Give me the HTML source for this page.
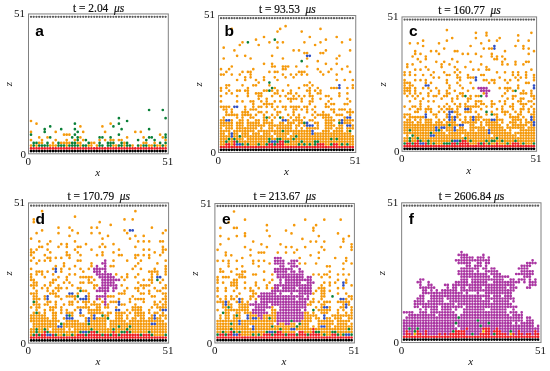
<!DOCTYPE html>
<html><head><meta charset="utf-8"><title>Figure</title>
<style>
html,body{margin:0;padding:0;background:#fff;}
body{width:550px;height:371px;overflow:hidden;position:relative;}
svg{position:absolute;left:0;top:0;display:block;}
text{font-family:"Liberation Serif","DejaVu Serif",serif;fill:#111;}
.t{font-size:11.4px;stroke:#111;stroke-width:0.2px;}
.n{font-size:11px;}
.i{font-style:italic;}
.l{font-family:"Liberation Sans","DejaVu Sans",sans-serif;font-weight:bold;font-size:15.5px;fill:#000;}
</style></head><body>
<svg width="550" height="371" viewBox="0 0 550 371">
<rect width="550" height="371" fill="#fff"/>
<g id="panel-a">
<rect x="28.50" y="13.95" width="139.80" height="139.85" fill="#fff" stroke="#808080" stroke-width="1"/>
<path d="M31.0 16.8h0M33.7 16.8h0M36.5 16.8h0M39.2 16.8h0M42.0 16.8h0M44.7 16.8h0M47.5 16.8h0M50.2 16.8h0M53.0 16.8h0M55.7 16.8h0M58.5 16.8h0M61.2 16.8h0M64.0 16.8h0M66.7 16.8h0M69.4 16.8h0M72.2 16.8h0M74.9 16.8h0M77.7 16.8h0M80.4 16.8h0M83.2 16.8h0M85.9 16.8h0M88.7 16.8h0M91.4 16.8h0M94.2 16.8h0M96.9 16.8h0M99.6 16.8h0M102.4 16.8h0M105.1 16.8h0M107.9 16.8h0M110.6 16.8h0M113.4 16.8h0M116.1 16.8h0M118.9 16.8h0M121.6 16.8h0M124.4 16.8h0M127.1 16.8h0M129.9 16.8h0M132.6 16.8h0M135.3 16.8h0M138.1 16.8h0M140.8 16.8h0M143.6 16.8h0M146.3 16.8h0M149.1 16.8h0M151.8 16.8h0M154.6 16.8h0M157.3 16.8h0M160.1 16.8h0M162.8 16.8h0M165.6 16.8h0" stroke="#5c5c5c" stroke-width="2.3" stroke-linecap="round" fill="none"/>
<path d="M31.0 151.1h0M33.7 151.1h0M36.5 151.1h0M39.2 151.1h0M42.0 151.1h0M44.7 151.1h0M47.5 151.1h0M50.2 151.1h0M53.0 151.1h0M55.7 151.1h0M58.5 151.1h0M61.2 151.1h0M64.0 151.1h0M66.7 151.1h0M69.4 151.1h0M72.2 151.1h0M74.9 151.1h0M77.7 151.1h0M80.4 151.1h0M83.2 151.1h0M85.9 151.1h0M88.7 151.1h0M91.4 151.1h0M94.2 151.1h0M96.9 151.1h0M99.6 151.1h0M102.4 151.1h0M105.1 151.1h0M107.9 151.1h0M110.6 151.1h0M113.4 151.1h0M116.1 151.1h0M118.9 151.1h0M121.6 151.1h0M124.4 151.1h0M127.1 151.1h0M129.9 151.1h0M132.6 151.1h0M135.3 151.1h0M138.1 151.1h0M140.8 151.1h0M143.6 151.1h0M146.3 151.1h0M149.1 151.1h0M151.8 151.1h0M154.6 151.1h0M157.3 151.1h0M160.1 151.1h0M162.8 151.1h0M165.6 151.1h0" stroke="#000000" stroke-width="2.7" stroke-linecap="round" fill="none"/>
<path d="M31.0 148.4h0M33.7 148.4h0M36.5 148.4h0M39.2 148.4h0M42.0 148.4h0M44.7 148.4h0M47.5 148.4h0M50.2 148.4h0M53.0 148.4h0M55.7 148.4h0M58.5 148.4h0M61.2 148.4h0M64.0 148.4h0M66.7 148.4h0M69.4 148.4h0M72.2 148.4h0M74.9 148.4h0M77.7 148.4h0M80.4 148.4h0M83.2 148.4h0M85.9 148.4h0M88.7 148.4h0M91.4 148.4h0M94.2 148.4h0M96.9 148.4h0M99.6 148.4h0M102.4 148.4h0M105.1 148.4h0M107.9 148.4h0M110.6 148.4h0M113.4 148.4h0M116.1 148.4h0M118.9 148.4h0M121.6 148.4h0M124.4 148.4h0M127.1 148.4h0M129.9 148.4h0M132.6 148.4h0M135.3 148.4h0M138.1 148.4h0M140.8 148.4h0M143.6 148.4h0M146.3 148.4h0M149.1 148.4h0M151.8 148.4h0M154.6 148.4h0M157.3 148.4h0M160.1 148.4h0M162.8 148.4h0M165.6 148.4h0" stroke="#ee1c24" stroke-width="2.7" stroke-linecap="round" fill="none"/>
<path d="M31.0 121.0h0M36.5 123.7h0M110.6 123.7h0M80.4 126.4h0M102.4 126.4h0M31.0 131.9h0M55.7 131.9h0M83.2 131.9h0M105.1 131.9h0M135.3 131.9h0M140.8 131.9h0M64.0 134.7h0M66.7 134.7h0M69.4 134.7h0M160.1 134.7h0M39.2 137.4h0M47.5 137.4h0M80.4 137.4h0M127.1 137.4h0M143.6 137.4h0M162.8 137.4h0M31.0 140.1h0M42.0 140.1h0M55.7 140.1h0M66.7 140.1h0M74.9 140.1h0M83.2 140.1h0M99.6 140.1h0M105.1 140.1h0M110.6 140.1h0M113.4 140.1h0M118.9 140.1h0M121.6 140.1h0M165.6 140.1h0M39.2 142.9h0M42.0 142.9h0M53.0 142.9h0M61.2 142.9h0M64.0 142.9h0M66.7 142.9h0M69.4 142.9h0M77.7 142.9h0M80.4 142.9h0M91.4 142.9h0M94.2 142.9h0M124.4 142.9h0M143.6 142.9h0M146.3 142.9h0M154.6 142.9h0M31.0 145.6h0M36.5 145.6h0M50.2 145.6h0M53.0 145.6h0M55.7 145.6h0M66.7 145.6h0M80.4 145.6h0M88.7 145.6h0M91.4 145.6h0M96.9 145.6h0M113.4 145.6h0M116.1 145.6h0M124.4 145.6h0M132.6 145.6h0M140.8 145.6h0M149.1 145.6h0M151.8 145.6h0M157.3 145.6h0M160.1 145.6h0M165.6 145.6h0" stroke="#f59a0c" stroke-width="2.7" stroke-linecap="round" fill="none"/>
<path d="M149.1 110.0h0M162.8 110.0h0M118.9 118.2h0M165.6 118.2h0M127.1 121.0h0M74.9 123.7h0M118.9 123.7h0M50.2 126.4h0M113.4 126.4h0M44.7 129.2h0M61.2 129.2h0M74.9 129.2h0M121.6 129.2h0M149.1 129.2h0M44.7 131.9h0M77.7 131.9h0M31.0 134.7h0M74.9 134.7h0M118.9 134.7h0M165.6 134.7h0M50.2 137.4h0M72.2 137.4h0M77.7 137.4h0M99.6 137.4h0M102.4 137.4h0M110.6 137.4h0M149.1 137.4h0M151.8 137.4h0M165.6 137.4h0M77.7 140.1h0M85.9 140.1h0M138.1 140.1h0M146.3 140.1h0M154.6 140.1h0M33.7 142.9h0M36.5 142.9h0M47.5 142.9h0M58.5 142.9h0M72.2 142.9h0M74.9 142.9h0M88.7 142.9h0M99.6 142.9h0M107.9 142.9h0M110.6 142.9h0M113.4 142.9h0M121.6 142.9h0M127.1 142.9h0M160.1 142.9h0M165.6 142.9h0M33.7 145.6h0M39.2 145.6h0M42.0 145.6h0M44.7 145.6h0M47.5 145.6h0M58.5 145.6h0M61.2 145.6h0M64.0 145.6h0M69.4 145.6h0M72.2 145.6h0M74.9 145.6h0M77.7 145.6h0M83.2 145.6h0M85.9 145.6h0M99.6 145.6h0M102.4 145.6h0M107.9 145.6h0M110.6 145.6h0M118.9 145.6h0M121.6 145.6h0M127.1 145.6h0M129.9 145.6h0M138.1 145.6h0M143.6 145.6h0M146.3 145.6h0M154.6 145.6h0M162.8 145.6h0" stroke="#0a8038" stroke-width="2.7" stroke-linecap="round" fill="none"/>
<text class="t" transform="translate(98.6,11.5) scale(1,1.15)" text-anchor="middle" xml:space="preserve">t = 2.04  <tspan class="i">μs</tspan></text>
<text class="n" x="25.1" y="16.8" text-anchor="end">51</text>
<text class="n" x="25.9" y="157.5" text-anchor="end">0</text>
<text class="n" x="28.3" y="164.8" text-anchor="middle">0</text>
<text class="n" x="167.8" y="164.8" text-anchor="middle">51</text>
<text class="n i" x="97.8" y="176.1" text-anchor="middle">x</text>
<text class="n i" transform="translate(12.0,84.2) rotate(-90)" text-anchor="middle">z</text>
<text class="l" x="35.3" y="35.6">a</text>
</g>
<g id="panel-b">
<rect x="218.50" y="15.55" width="137.25" height="136.95" fill="#fff" stroke="#808080" stroke-width="1"/>
<path d="M221.0 18.2h0M223.7 18.2h0M226.4 18.2h0M229.1 18.2h0M231.8 18.2h0M234.4 18.2h0M237.1 18.2h0M239.8 18.2h0M242.5 18.2h0M245.2 18.2h0M247.9 18.2h0M250.6 18.2h0M253.3 18.2h0M256.0 18.2h0M258.7 18.2h0M261.3 18.2h0M264.0 18.2h0M266.7 18.2h0M269.4 18.2h0M272.1 18.2h0M274.8 18.2h0M277.5 18.2h0M280.2 18.2h0M282.9 18.2h0M285.6 18.2h0M288.2 18.2h0M290.9 18.2h0M293.6 18.2h0M296.3 18.2h0M299.0 18.2h0M301.7 18.2h0M304.4 18.2h0M307.1 18.2h0M309.8 18.2h0M312.5 18.2h0M315.1 18.2h0M317.8 18.2h0M320.5 18.2h0M323.2 18.2h0M325.9 18.2h0M328.6 18.2h0M331.3 18.2h0M334.0 18.2h0M336.7 18.2h0M339.4 18.2h0M342.0 18.2h0M344.7 18.2h0M347.4 18.2h0M350.1 18.2h0M352.8 18.2h0" stroke="#5c5c5c" stroke-width="2.3" stroke-linecap="round" fill="none"/>
<path d="M221.0 149.8h0M223.7 149.8h0M226.4 149.8h0M229.1 149.8h0M231.8 149.8h0M234.4 149.8h0M237.1 149.8h0M239.8 149.8h0M242.5 149.8h0M245.2 149.8h0M247.9 149.8h0M250.6 149.8h0M253.3 149.8h0M256.0 149.8h0M258.7 149.8h0M261.3 149.8h0M264.0 149.8h0M266.7 149.8h0M269.4 149.8h0M272.1 149.8h0M274.8 149.8h0M277.5 149.8h0M280.2 149.8h0M282.9 149.8h0M285.6 149.8h0M288.2 149.8h0M290.9 149.8h0M293.6 149.8h0M296.3 149.8h0M299.0 149.8h0M301.7 149.8h0M304.4 149.8h0M307.1 149.8h0M309.8 149.8h0M312.5 149.8h0M315.1 149.8h0M317.8 149.8h0M320.5 149.8h0M323.2 149.8h0M325.9 149.8h0M328.6 149.8h0M331.3 149.8h0M334.0 149.8h0M336.7 149.8h0M339.4 149.8h0M342.0 149.8h0M344.7 149.8h0M347.4 149.8h0M350.1 149.8h0M352.8 149.8h0" stroke="#000000" stroke-width="2.7" stroke-linecap="round" fill="none"/>
<path d="M234.4 141.7h0M280.2 141.7h0M282.9 141.7h0M226.4 144.4h0M229.1 144.4h0M234.4 144.4h0M269.4 144.4h0M272.1 144.4h0M277.5 144.4h0M280.2 144.4h0M282.9 144.4h0M317.8 144.4h0M320.5 144.4h0M323.2 144.4h0M334.0 144.4h0M336.7 144.4h0M221.0 147.1h0M223.7 147.1h0M226.4 147.1h0M229.1 147.1h0M231.8 147.1h0M234.4 147.1h0M237.1 147.1h0M239.8 147.1h0M242.5 147.1h0M245.2 147.1h0M247.9 147.1h0M250.6 147.1h0M253.3 147.1h0M256.0 147.1h0M258.7 147.1h0M261.3 147.1h0M264.0 147.1h0M266.7 147.1h0M269.4 147.1h0M272.1 147.1h0M274.8 147.1h0M277.5 147.1h0M280.2 147.1h0M282.9 147.1h0M285.6 147.1h0M288.2 147.1h0M290.9 147.1h0M293.6 147.1h0M296.3 147.1h0M299.0 147.1h0M301.7 147.1h0M304.4 147.1h0M307.1 147.1h0M309.8 147.1h0M312.5 147.1h0M315.1 147.1h0M317.8 147.1h0M320.5 147.1h0M323.2 147.1h0M325.9 147.1h0M328.6 147.1h0M331.3 147.1h0M334.0 147.1h0M336.7 147.1h0M339.4 147.1h0M342.0 147.1h0M344.7 147.1h0M347.4 147.1h0M350.1 147.1h0M352.8 147.1h0" stroke="#ee1c24" stroke-width="2.7" stroke-linecap="round" fill="none"/>
<path d="M285.6 26.2h0M231.8 28.9h0M280.2 28.9h0M320.5 28.9h0M277.5 31.6h0M301.7 31.6h0M264.0 37.0h0M309.8 37.0h0M336.7 37.0h0M256.0 39.7h0M325.9 39.7h0M350.1 39.7h0M242.5 42.3h0M269.4 42.3h0M277.5 42.3h0M282.9 42.3h0M304.4 42.3h0M320.5 42.3h0M342.0 42.3h0M239.8 45.0h0M258.7 45.0h0M315.1 45.0h0M223.7 47.7h0M277.5 47.7h0M234.4 50.4h0M293.6 50.4h0M299.0 50.4h0M325.9 50.4h0M350.1 50.4h0M304.4 53.1h0M307.1 53.1h0M320.5 53.1h0M323.2 53.1h0M237.1 55.8h0M245.2 55.8h0M272.1 55.8h0M339.4 55.8h0M223.7 58.5h0M250.6 58.5h0M282.9 58.5h0M307.1 58.5h0M336.7 58.5h0M317.8 61.2h0M264.0 63.8h0M272.1 63.8h0M325.9 63.8h0M336.7 63.8h0M231.8 66.5h0M272.1 66.5h0M274.8 66.5h0M282.9 66.5h0M285.6 66.5h0M288.2 66.5h0M296.3 66.5h0M307.1 66.5h0M347.4 66.5h0M221.0 69.2h0M229.1 69.2h0M253.3 69.2h0M282.9 69.2h0M285.6 69.2h0M317.8 69.2h0M331.3 69.2h0M342.0 69.2h0M226.4 71.9h0M242.5 71.9h0M247.9 71.9h0M250.6 71.9h0M269.4 71.9h0M274.8 71.9h0M277.5 71.9h0M299.0 71.9h0M301.7 71.9h0M304.4 71.9h0M320.5 71.9h0M328.6 71.9h0M350.1 71.9h0M221.0 74.6h0M223.7 74.6h0M231.8 74.6h0M239.8 74.6h0M250.6 74.6h0M282.9 74.6h0M290.9 74.6h0M296.3 74.6h0M301.7 74.6h0M307.1 74.6h0M323.2 74.6h0M336.7 74.6h0M245.2 77.3h0M250.6 77.3h0M264.0 77.3h0M274.8 77.3h0M285.6 77.3h0M293.6 77.3h0M237.1 80.0h0M245.2 80.0h0M256.0 80.0h0M264.0 80.0h0M277.5 80.0h0M336.7 80.0h0M344.7 80.0h0M352.8 80.0h0M258.7 82.6h0M309.8 82.6h0M226.4 85.3h0M229.1 85.3h0M242.5 85.3h0M253.3 85.3h0M256.0 85.3h0M269.4 85.3h0M288.2 85.3h0M304.4 85.3h0M307.1 85.3h0M312.5 85.3h0M352.8 85.3h0M221.0 88.0h0M226.4 88.0h0M247.9 88.0h0M274.8 88.0h0M299.0 88.0h0M309.8 88.0h0M317.8 88.0h0M331.3 88.0h0M334.0 88.0h0M336.7 88.0h0M347.4 88.0h0M352.8 88.0h0M221.0 90.7h0M229.1 90.7h0M237.1 90.7h0M239.8 90.7h0M245.2 90.7h0M247.9 90.7h0M264.0 90.7h0M266.7 90.7h0M272.1 90.7h0M277.5 90.7h0M282.9 90.7h0M290.9 90.7h0M307.1 90.7h0M309.8 90.7h0M315.1 90.7h0M320.5 90.7h0M226.4 93.4h0M231.8 93.4h0M247.9 93.4h0M256.0 93.4h0M258.7 93.4h0M261.3 93.4h0M274.8 93.4h0M277.5 93.4h0M288.2 93.4h0M290.9 93.4h0M296.3 93.4h0M309.8 93.4h0M317.8 93.4h0M320.5 93.4h0M339.4 93.4h0M347.4 93.4h0M221.0 96.1h0M237.1 96.1h0M247.9 96.1h0M258.7 96.1h0M261.3 96.1h0M272.1 96.1h0M280.2 96.1h0M285.6 96.1h0M293.6 96.1h0M299.0 96.1h0M304.4 96.1h0M309.8 96.1h0M312.5 96.1h0M325.9 96.1h0M328.6 96.1h0M339.4 96.1h0M258.7 98.8h0M266.7 98.8h0M288.2 98.8h0M290.9 98.8h0M293.6 98.8h0M296.3 98.8h0M301.7 98.8h0M312.5 98.8h0M320.5 98.8h0M331.3 98.8h0M347.4 98.8h0M221.0 101.4h0M237.1 101.4h0M242.5 101.4h0M250.6 101.4h0M253.3 101.4h0M261.3 101.4h0M266.7 101.4h0M274.8 101.4h0M280.2 101.4h0M290.9 101.4h0M301.7 101.4h0M309.8 101.4h0M312.5 101.4h0M328.6 101.4h0M350.1 101.4h0M253.3 104.1h0M264.0 104.1h0M266.7 104.1h0M269.4 104.1h0M272.1 104.1h0M309.8 104.1h0M325.9 104.1h0M331.3 104.1h0M334.0 104.1h0M344.7 104.1h0M347.4 104.1h0M221.0 106.8h0M223.7 106.8h0M226.4 106.8h0M229.1 106.8h0M245.2 106.8h0M253.3 106.8h0M258.7 106.8h0M261.3 106.8h0M266.7 106.8h0M272.1 106.8h0M277.5 106.8h0M282.9 106.8h0M285.6 106.8h0M290.9 106.8h0M293.6 106.8h0M296.3 106.8h0M299.0 106.8h0M304.4 106.8h0M307.1 106.8h0M315.1 106.8h0M325.9 106.8h0M328.6 106.8h0M223.7 109.5h0M226.4 109.5h0M231.8 109.5h0M245.2 109.5h0M250.6 109.5h0M253.3 109.5h0M256.0 109.5h0M274.8 109.5h0M285.6 109.5h0M293.6 109.5h0M296.3 109.5h0M301.7 109.5h0M307.1 109.5h0M312.5 109.5h0M331.3 109.5h0M334.0 109.5h0M339.4 109.5h0M342.0 109.5h0M344.7 109.5h0M350.1 109.5h0M226.4 112.2h0M231.8 112.2h0M242.5 112.2h0M245.2 112.2h0M247.9 112.2h0M258.7 112.2h0M261.3 112.2h0M266.7 112.2h0M277.5 112.2h0M280.2 112.2h0M293.6 112.2h0M307.1 112.2h0M315.1 112.2h0M323.2 112.2h0M334.0 112.2h0M347.4 112.2h0M350.1 112.2h0M352.8 112.2h0M226.4 114.9h0M229.1 114.9h0M231.8 114.9h0M234.4 114.9h0M237.1 114.9h0M242.5 114.9h0M245.2 114.9h0M247.9 114.9h0M250.6 114.9h0M256.0 114.9h0M264.0 114.9h0M272.1 114.9h0M277.5 114.9h0M288.2 114.9h0M293.6 114.9h0M299.0 114.9h0M312.5 114.9h0M317.8 114.9h0M320.5 114.9h0M323.2 114.9h0M325.9 114.9h0M328.6 114.9h0M336.7 114.9h0M339.4 114.9h0M342.0 114.9h0M350.1 114.9h0M223.7 117.6h0M237.1 117.6h0M242.5 117.6h0M250.6 117.6h0M253.3 117.6h0M264.0 117.6h0M269.4 117.6h0M274.8 117.6h0M282.9 117.6h0M290.9 117.6h0M296.3 117.6h0M299.0 117.6h0M304.4 117.6h0M315.1 117.6h0M323.2 117.6h0M325.9 117.6h0M328.6 117.6h0M331.3 117.6h0M344.7 117.6h0M221.0 120.3h0M223.7 120.3h0M231.8 120.3h0M239.8 120.3h0M242.5 120.3h0M247.9 120.3h0M256.0 120.3h0M258.7 120.3h0M264.0 120.3h0M266.7 120.3h0M272.1 120.3h0M288.2 120.3h0M293.6 120.3h0M296.3 120.3h0M299.0 120.3h0M301.7 120.3h0M309.8 120.3h0M312.5 120.3h0M325.9 120.3h0M328.6 120.3h0M331.3 120.3h0M334.0 120.3h0M339.4 120.3h0M344.7 120.3h0M347.4 120.3h0M350.1 120.3h0M352.8 120.3h0M221.0 122.9h0M223.7 122.9h0M226.4 122.9h0M229.1 122.9h0M231.8 122.9h0M237.1 122.9h0M239.8 122.9h0M242.5 122.9h0M247.9 122.9h0M250.6 122.9h0M253.3 122.9h0M256.0 122.9h0M258.7 122.9h0M264.0 122.9h0M266.7 122.9h0M269.4 122.9h0M272.1 122.9h0M280.2 122.9h0M282.9 122.9h0M288.2 122.9h0M290.9 122.9h0M293.6 122.9h0M299.0 122.9h0M301.7 122.9h0M315.1 122.9h0M317.8 122.9h0M325.9 122.9h0M328.6 122.9h0M331.3 122.9h0M344.7 122.9h0M347.4 122.9h0M350.1 122.9h0M221.0 125.6h0M223.7 125.6h0M226.4 125.6h0M229.1 125.6h0M231.8 125.6h0M237.1 125.6h0M239.8 125.6h0M242.5 125.6h0M247.9 125.6h0M250.6 125.6h0M253.3 125.6h0M256.0 125.6h0M258.7 125.6h0M261.3 125.6h0M264.0 125.6h0M269.4 125.6h0M272.1 125.6h0M274.8 125.6h0M277.5 125.6h0M280.2 125.6h0M282.9 125.6h0M285.6 125.6h0M288.2 125.6h0M290.9 125.6h0M296.3 125.6h0M299.0 125.6h0M304.4 125.6h0M317.8 125.6h0M325.9 125.6h0M328.6 125.6h0M331.3 125.6h0M334.0 125.6h0M339.4 125.6h0M342.0 125.6h0M352.8 125.6h0M221.0 128.3h0M226.4 128.3h0M229.1 128.3h0M231.8 128.3h0M237.1 128.3h0M239.8 128.3h0M242.5 128.3h0M245.2 128.3h0M247.9 128.3h0M250.6 128.3h0M253.3 128.3h0M256.0 128.3h0M261.3 128.3h0M269.4 128.3h0M272.1 128.3h0M277.5 128.3h0M280.2 128.3h0M282.9 128.3h0M285.6 128.3h0M288.2 128.3h0M290.9 128.3h0M296.3 128.3h0M301.7 128.3h0M307.1 128.3h0M309.8 128.3h0M312.5 128.3h0M315.1 128.3h0M317.8 128.3h0M325.9 128.3h0M328.6 128.3h0M331.3 128.3h0M336.7 128.3h0M339.4 128.3h0M342.0 128.3h0M347.4 128.3h0M350.1 128.3h0M352.8 128.3h0M221.0 131.0h0M223.7 131.0h0M226.4 131.0h0M229.1 131.0h0M234.4 131.0h0M237.1 131.0h0M239.8 131.0h0M242.5 131.0h0M245.2 131.0h0M247.9 131.0h0M250.6 131.0h0M253.3 131.0h0M258.7 131.0h0M261.3 131.0h0M264.0 131.0h0M266.7 131.0h0M269.4 131.0h0M272.1 131.0h0M274.8 131.0h0M277.5 131.0h0M280.2 131.0h0M285.6 131.0h0M288.2 131.0h0M290.9 131.0h0M293.6 131.0h0M296.3 131.0h0M299.0 131.0h0M301.7 131.0h0M304.4 131.0h0M307.1 131.0h0M309.8 131.0h0M323.2 131.0h0M325.9 131.0h0M328.6 131.0h0M334.0 131.0h0M336.7 131.0h0M339.4 131.0h0M342.0 131.0h0M347.4 131.0h0M221.0 133.7h0M223.7 133.7h0M229.1 133.7h0M234.4 133.7h0M237.1 133.7h0M242.5 133.7h0M245.2 133.7h0M247.9 133.7h0M253.3 133.7h0M256.0 133.7h0M258.7 133.7h0M264.0 133.7h0M266.7 133.7h0M269.4 133.7h0M274.8 133.7h0M277.5 133.7h0M280.2 133.7h0M282.9 133.7h0M285.6 133.7h0M288.2 133.7h0M293.6 133.7h0M296.3 133.7h0M299.0 133.7h0M301.7 133.7h0M304.4 133.7h0M307.1 133.7h0M309.8 133.7h0M315.1 133.7h0M317.8 133.7h0M320.5 133.7h0M323.2 133.7h0M325.9 133.7h0M328.6 133.7h0M331.3 133.7h0M334.0 133.7h0M336.7 133.7h0M339.4 133.7h0M342.0 133.7h0M344.7 133.7h0M347.4 133.7h0M350.1 133.7h0M221.0 136.4h0M223.7 136.4h0M226.4 136.4h0M229.1 136.4h0M234.4 136.4h0M237.1 136.4h0M242.5 136.4h0M245.2 136.4h0M247.9 136.4h0M250.6 136.4h0M253.3 136.4h0M256.0 136.4h0M258.7 136.4h0M261.3 136.4h0M264.0 136.4h0M266.7 136.4h0M269.4 136.4h0M272.1 136.4h0M277.5 136.4h0M280.2 136.4h0M282.9 136.4h0M285.6 136.4h0M290.9 136.4h0M293.6 136.4h0M299.0 136.4h0M301.7 136.4h0M304.4 136.4h0M307.1 136.4h0M309.8 136.4h0M312.5 136.4h0M315.1 136.4h0M317.8 136.4h0M320.5 136.4h0M323.2 136.4h0M325.9 136.4h0M328.6 136.4h0M331.3 136.4h0M334.0 136.4h0M336.7 136.4h0M339.4 136.4h0M342.0 136.4h0M344.7 136.4h0M347.4 136.4h0M350.1 136.4h0M352.8 136.4h0M221.0 139.1h0M223.7 139.1h0M226.4 139.1h0M231.8 139.1h0M237.1 139.1h0M239.8 139.1h0M242.5 139.1h0M247.9 139.1h0M250.6 139.1h0M253.3 139.1h0M256.0 139.1h0M258.7 139.1h0M261.3 139.1h0M264.0 139.1h0M266.7 139.1h0M272.1 139.1h0M274.8 139.1h0M282.9 139.1h0M285.6 139.1h0M288.2 139.1h0M290.9 139.1h0M296.3 139.1h0M299.0 139.1h0M301.7 139.1h0M304.4 139.1h0M307.1 139.1h0M309.8 139.1h0M312.5 139.1h0M315.1 139.1h0M317.8 139.1h0M320.5 139.1h0M323.2 139.1h0M325.9 139.1h0M328.6 139.1h0M334.0 139.1h0M339.4 139.1h0M342.0 139.1h0M344.7 139.1h0M347.4 139.1h0M350.1 139.1h0M352.8 139.1h0M221.0 141.7h0M223.7 141.7h0M229.1 141.7h0M231.8 141.7h0M239.8 141.7h0M242.5 141.7h0M245.2 141.7h0M247.9 141.7h0M250.6 141.7h0M253.3 141.7h0M256.0 141.7h0M258.7 141.7h0M261.3 141.7h0M264.0 141.7h0M266.7 141.7h0M290.9 141.7h0M293.6 141.7h0M296.3 141.7h0M299.0 141.7h0M304.4 141.7h0M307.1 141.7h0M309.8 141.7h0M312.5 141.7h0M320.5 141.7h0M323.2 141.7h0M325.9 141.7h0M328.6 141.7h0M331.3 141.7h0M334.0 141.7h0M336.7 141.7h0M339.4 141.7h0M342.0 141.7h0M344.7 141.7h0M347.4 141.7h0M350.1 141.7h0M352.8 141.7h0M221.0 144.4h0M223.7 144.4h0M231.8 144.4h0M245.2 144.4h0M250.6 144.4h0M253.3 144.4h0M256.0 144.4h0M261.3 144.4h0M264.0 144.4h0M285.6 144.4h0M288.2 144.4h0M290.9 144.4h0M293.6 144.4h0M296.3 144.4h0M301.7 144.4h0M307.1 144.4h0M312.5 144.4h0M325.9 144.4h0M328.6 144.4h0M339.4 144.4h0M344.7 144.4h0M350.1 144.4h0M352.8 144.4h0" stroke="#f59a0c" stroke-width="2.7" stroke-linecap="round" fill="none"/>
<path d="M274.8 39.7h0M247.9 42.3h0M301.7 61.2h0M269.4 82.6h0M272.1 88.0h0M269.4 90.7h0M266.7 117.6h0M280.2 117.6h0M304.4 122.9h0M339.4 122.9h0M282.9 131.0h0M350.1 131.0h0M239.8 136.4h0M296.3 136.4h0M229.1 139.1h0M234.4 139.1h0M269.4 139.1h0M277.5 139.1h0M280.2 139.1h0M293.6 139.1h0M331.3 139.1h0M336.7 139.1h0M226.4 141.7h0M237.1 141.7h0M269.4 141.7h0M277.5 141.7h0M285.6 141.7h0M288.2 141.7h0M301.7 141.7h0M315.1 141.7h0M317.8 141.7h0M242.5 144.4h0M247.9 144.4h0M258.7 144.4h0M266.7 144.4h0M274.8 144.4h0M299.0 144.4h0M304.4 144.4h0M309.8 144.4h0M315.1 144.4h0M331.3 144.4h0M342.0 144.4h0M347.4 144.4h0" stroke="#0a8038" stroke-width="2.7" stroke-linecap="round" fill="none"/>
<path d="M307.1 55.8h0M309.8 55.8h0M339.4 85.3h0M339.4 88.0h0M234.4 106.8h0M237.1 106.8h0M347.4 117.6h0M350.1 117.6h0M226.4 120.3h0M229.1 120.3h0M282.9 120.3h0M285.6 120.3h0M342.0 120.3h0M307.1 122.9h0M342.0 122.9h0M307.1 125.6h0M309.8 125.6h0M312.5 125.6h0M347.4 125.6h0M350.1 125.6h0M312.5 131.0h0M231.8 133.7h0M312.5 133.7h0M231.8 136.4h0M272.1 141.7h0M274.8 141.7h0M237.1 144.4h0M239.8 144.4h0" stroke="#2f4fc4" stroke-width="2.7" stroke-linecap="round" fill="none"/>
<text class="t" transform="translate(287.3,13.0) scale(1,1.15)" text-anchor="middle" xml:space="preserve">t = 93.53  <tspan class="i">μs</tspan></text>
<text class="n" x="215.1" y="18.4" text-anchor="end">51</text>
<text class="n" x="215.9" y="156.2" text-anchor="end">0</text>
<text class="n" x="218.3" y="163.5" text-anchor="middle">0</text>
<text class="n" x="355.2" y="163.5" text-anchor="middle">51</text>
<text class="n i" x="286.5" y="174.8" text-anchor="middle">x</text>
<text class="n i" transform="translate(202.0,84.3) rotate(-90)" text-anchor="middle">z</text>
<text class="l" x="224.5" y="35.5">b</text>
</g>
<g id="panel-c">
<rect x="402.00" y="16.90" width="134.60" height="134.40" fill="#fff" stroke="#808080" stroke-width="1"/>
<path d="M404.6 19.6h0M407.3 19.6h0M409.9 19.6h0M412.6 19.6h0M415.2 19.6h0M417.8 19.6h0M420.5 19.6h0M423.1 19.6h0M425.8 19.6h0M428.4 19.6h0M431.0 19.6h0M433.7 19.6h0M436.3 19.6h0M439.0 19.6h0M441.6 19.6h0M444.2 19.6h0M446.9 19.6h0M449.5 19.6h0M452.2 19.6h0M454.8 19.6h0M457.4 19.6h0M460.1 19.6h0M462.7 19.6h0M465.4 19.6h0M468.0 19.6h0M470.6 19.6h0M473.3 19.6h0M475.9 19.6h0M478.6 19.6h0M481.2 19.6h0M483.8 19.6h0M486.5 19.6h0M489.1 19.6h0M491.8 19.6h0M494.4 19.6h0M497.0 19.6h0M499.7 19.6h0M502.3 19.6h0M505.0 19.6h0M507.6 19.6h0M510.2 19.6h0M512.9 19.6h0M515.5 19.6h0M518.2 19.6h0M520.8 19.6h0M523.4 19.6h0M526.1 19.6h0M528.7 19.6h0M531.4 19.6h0M534.0 19.6h0" stroke="#5c5c5c" stroke-width="2.3" stroke-linecap="round" fill="none"/>
<path d="M404.6 148.8h0M407.3 148.8h0M409.9 148.8h0M412.6 148.8h0M415.2 148.8h0M417.8 148.8h0M420.5 148.8h0M423.1 148.8h0M425.8 148.8h0M428.4 148.8h0M431.0 148.8h0M433.7 148.8h0M436.3 148.8h0M439.0 148.8h0M441.6 148.8h0M444.2 148.8h0M446.9 148.8h0M449.5 148.8h0M452.2 148.8h0M454.8 148.8h0M457.4 148.8h0M460.1 148.8h0M462.7 148.8h0M465.4 148.8h0M468.0 148.8h0M470.6 148.8h0M473.3 148.8h0M475.9 148.8h0M478.6 148.8h0M481.2 148.8h0M483.8 148.8h0M486.5 148.8h0M489.1 148.8h0M491.8 148.8h0M494.4 148.8h0M497.0 148.8h0M499.7 148.8h0M502.3 148.8h0M505.0 148.8h0M507.6 148.8h0M510.2 148.8h0M512.9 148.8h0M515.5 148.8h0M518.2 148.8h0M520.8 148.8h0M523.4 148.8h0M526.1 148.8h0M528.7 148.8h0M531.4 148.8h0M534.0 148.8h0" stroke="#000000" stroke-width="2.7" stroke-linecap="round" fill="none"/>
<path d="M417.8 140.9h0M462.7 140.9h0M465.4 140.9h0M407.3 143.5h0M409.9 143.5h0M415.2 143.5h0M417.8 143.5h0M425.8 143.5h0M452.2 143.5h0M454.8 143.5h0M460.1 143.5h0M462.7 143.5h0M465.4 143.5h0M468.0 143.5h0M478.6 143.5h0M483.8 143.5h0M497.0 143.5h0M512.9 143.5h0M515.5 143.5h0M518.2 143.5h0M404.6 146.2h0M407.3 146.2h0M409.9 146.2h0M412.6 146.2h0M415.2 146.2h0M417.8 146.2h0M420.5 146.2h0M423.1 146.2h0M425.8 146.2h0M428.4 146.2h0M431.0 146.2h0M433.7 146.2h0M436.3 146.2h0M439.0 146.2h0M441.6 146.2h0M444.2 146.2h0M446.9 146.2h0M449.5 146.2h0M452.2 146.2h0M454.8 146.2h0M457.4 146.2h0M460.1 146.2h0M462.7 146.2h0M465.4 146.2h0M468.0 146.2h0M470.6 146.2h0M473.3 146.2h0M475.9 146.2h0M478.6 146.2h0M481.2 146.2h0M483.8 146.2h0M486.5 146.2h0M489.1 146.2h0M491.8 146.2h0M494.4 146.2h0M497.0 146.2h0M499.7 146.2h0M502.3 146.2h0M505.0 146.2h0M507.6 146.2h0M510.2 146.2h0M512.9 146.2h0M515.5 146.2h0M518.2 146.2h0M520.8 146.2h0M523.4 146.2h0M526.1 146.2h0M528.7 146.2h0M531.4 146.2h0M534.0 146.2h0" stroke="#ee1c24" stroke-width="2.7" stroke-linecap="round" fill="none"/>
<path d="M446.9 30.1h0M475.9 32.8h0M486.5 32.8h0M531.4 32.8h0M486.5 35.4h0M518.2 35.4h0M452.2 38.1h0M475.9 38.1h0M499.7 38.1h0M423.1 40.7h0M446.9 40.7h0M489.1 40.7h0M497.0 40.7h0M518.2 40.7h0M528.7 40.7h0M409.9 43.3h0M417.8 43.3h0M439.0 43.3h0M481.2 43.3h0M423.1 46.0h0M470.6 46.0h0M515.5 46.0h0M523.4 46.0h0M444.2 48.6h0M483.8 48.6h0M489.1 48.6h0M491.8 48.6h0M523.4 48.6h0M528.7 48.6h0M415.2 51.2h0M431.0 51.2h0M436.3 51.2h0M454.8 51.2h0M457.4 51.2h0M505.0 51.2h0M534.0 51.2h0M415.2 53.9h0M420.5 53.9h0M439.0 53.9h0M462.7 53.9h0M468.0 53.9h0M475.9 53.9h0M491.8 53.9h0M528.7 53.9h0M412.6 56.5h0M425.8 56.5h0M481.2 56.5h0M491.8 56.5h0M497.0 56.5h0M502.3 56.5h0M417.8 59.2h0M425.8 59.2h0M452.2 59.2h0M494.4 59.2h0M497.0 59.2h0M505.0 59.2h0M420.5 61.8h0M436.3 61.8h0M444.2 61.8h0M457.4 61.8h0M470.6 61.8h0M502.3 61.8h0M515.5 61.8h0M526.1 61.8h0M528.7 61.8h0M407.3 64.4h0M412.6 64.4h0M441.6 64.4h0M449.5 64.4h0M481.2 64.4h0M502.3 64.4h0M507.6 64.4h0M515.5 64.4h0M523.4 64.4h0M407.3 67.1h0M425.8 67.1h0M441.6 67.1h0M454.8 67.1h0M465.4 67.1h0M486.5 67.1h0M415.2 69.7h0M420.5 69.7h0M428.4 69.7h0M457.4 69.7h0M473.3 69.7h0M478.6 69.7h0M486.5 69.7h0M489.1 69.7h0M531.4 69.7h0M404.6 72.3h0M409.9 72.3h0M433.7 72.3h0M444.2 72.3h0M454.8 72.3h0M460.1 72.3h0M497.0 72.3h0M505.0 72.3h0M512.9 72.3h0M518.2 72.3h0M526.1 72.3h0M404.6 75.0h0M409.9 75.0h0M415.2 75.0h0M423.1 75.0h0M431.0 75.0h0M446.9 75.0h0M449.5 75.0h0M457.4 75.0h0M468.0 75.0h0M481.2 75.0h0M483.8 75.0h0M512.9 75.0h0M518.2 75.0h0M526.1 75.0h0M534.0 75.0h0M433.7 77.6h0M439.0 77.6h0M457.4 77.6h0M460.1 77.6h0M468.0 77.6h0M470.6 77.6h0M473.3 77.6h0M499.7 77.6h0M515.5 77.6h0M520.8 77.6h0M526.1 77.6h0M534.0 77.6h0M404.6 80.2h0M415.2 80.2h0M420.5 80.2h0M425.8 80.2h0M446.9 80.2h0M460.1 80.2h0M483.8 80.2h0M486.5 80.2h0M491.8 80.2h0M494.4 80.2h0M505.0 80.2h0M510.2 80.2h0M518.2 80.2h0M534.0 80.2h0M404.6 82.9h0M407.3 82.9h0M409.9 82.9h0M425.8 82.9h0M431.0 82.9h0M446.9 82.9h0M457.4 82.9h0M470.6 82.9h0M489.1 82.9h0M494.4 82.9h0M507.6 82.9h0M526.1 82.9h0M528.7 82.9h0M404.6 85.5h0M409.9 85.5h0M412.6 85.5h0M449.5 85.5h0M460.1 85.5h0M518.2 85.5h0M404.6 88.2h0M407.3 88.2h0M409.9 88.2h0M415.2 88.2h0M423.1 88.2h0M428.4 88.2h0M436.3 88.2h0M449.5 88.2h0M462.7 88.2h0M473.3 88.2h0M499.7 88.2h0M505.0 88.2h0M507.6 88.2h0M510.2 88.2h0M518.2 88.2h0M404.6 90.8h0M407.3 90.8h0M409.9 90.8h0M415.2 90.8h0M431.0 90.8h0M439.0 90.8h0M446.9 90.8h0M454.8 90.8h0M468.0 90.8h0M507.6 90.8h0M512.9 90.8h0M523.4 90.8h0M531.4 90.8h0M404.6 93.4h0M409.9 93.4h0M415.2 93.4h0M420.5 93.4h0M428.4 93.4h0M439.0 93.4h0M446.9 93.4h0M449.5 93.4h0M460.1 93.4h0M462.7 93.4h0M483.8 93.4h0M505.0 93.4h0M520.8 93.4h0M523.4 93.4h0M526.1 93.4h0M531.4 93.4h0M407.3 96.1h0M412.6 96.1h0M417.8 96.1h0M428.4 96.1h0M433.7 96.1h0M436.3 96.1h0M444.2 96.1h0M446.9 96.1h0M457.4 96.1h0M462.7 96.1h0M470.6 96.1h0M475.9 96.1h0M478.6 96.1h0M502.3 96.1h0M512.9 96.1h0M515.5 96.1h0M531.4 96.1h0M534.0 96.1h0M415.2 98.7h0M423.1 98.7h0M441.6 98.7h0M452.2 98.7h0M457.4 98.7h0M468.0 98.7h0M470.6 98.7h0M507.6 98.7h0M512.9 98.7h0M520.8 98.7h0M523.4 98.7h0M534.0 98.7h0M409.9 101.3h0M420.5 101.3h0M428.4 101.3h0M433.7 101.3h0M452.2 101.3h0M468.0 101.3h0M475.9 101.3h0M478.6 101.3h0M481.2 101.3h0M491.8 101.3h0M499.7 101.3h0M505.0 101.3h0M518.2 101.3h0M520.8 101.3h0M528.7 101.3h0M531.4 101.3h0M420.5 104.0h0M446.9 104.0h0M454.8 104.0h0M460.1 104.0h0M465.4 104.0h0M475.9 104.0h0M481.2 104.0h0M483.8 104.0h0M491.8 104.0h0M494.4 104.0h0M505.0 104.0h0M512.9 104.0h0M520.8 104.0h0M523.4 104.0h0M526.1 104.0h0M534.0 104.0h0M404.6 106.6h0M412.6 106.6h0M415.2 106.6h0M420.5 106.6h0M428.4 106.6h0M439.0 106.6h0M444.2 106.6h0M449.5 106.6h0M457.4 106.6h0M460.1 106.6h0M465.4 106.6h0M468.0 106.6h0M470.6 106.6h0M473.3 106.6h0M475.9 106.6h0M478.6 106.6h0M486.5 106.6h0M491.8 106.6h0M502.3 106.6h0M510.2 106.6h0M512.9 106.6h0M523.4 106.6h0M531.4 106.6h0M409.9 109.2h0M417.8 109.2h0M420.5 109.2h0M425.8 109.2h0M428.4 109.2h0M431.0 109.2h0M441.6 109.2h0M446.9 109.2h0M449.5 109.2h0M452.2 109.2h0M457.4 109.2h0M470.6 109.2h0M481.2 109.2h0M497.0 109.2h0M502.3 109.2h0M512.9 109.2h0M520.8 109.2h0M523.4 109.2h0M528.7 109.2h0M534.0 109.2h0M415.2 111.9h0M417.8 111.9h0M425.8 111.9h0M431.0 111.9h0M439.0 111.9h0M444.2 111.9h0M454.8 111.9h0M457.4 111.9h0M465.4 111.9h0M468.0 111.9h0M470.6 111.9h0M475.9 111.9h0M491.8 111.9h0M502.3 111.9h0M505.0 111.9h0M507.6 111.9h0M515.5 111.9h0M520.8 111.9h0M528.7 111.9h0M534.0 111.9h0M404.6 114.5h0M407.3 114.5h0M409.9 114.5h0M433.7 114.5h0M436.3 114.5h0M446.9 114.5h0M457.4 114.5h0M460.1 114.5h0M478.6 114.5h0M486.5 114.5h0M494.4 114.5h0M497.0 114.5h0M505.0 114.5h0M510.2 114.5h0M518.2 114.5h0M520.8 114.5h0M531.4 114.5h0M534.0 114.5h0M404.6 117.2h0M409.9 117.2h0M412.6 117.2h0M415.2 117.2h0M417.8 117.2h0M420.5 117.2h0M423.1 117.2h0M436.3 117.2h0M446.9 117.2h0M452.2 117.2h0M457.4 117.2h0M465.4 117.2h0M470.6 117.2h0M475.9 117.2h0M478.6 117.2h0M481.2 117.2h0M497.0 117.2h0M510.2 117.2h0M512.9 117.2h0M515.5 117.2h0M518.2 117.2h0M523.4 117.2h0M534.0 117.2h0M407.3 119.8h0M409.9 119.8h0M415.2 119.8h0M420.5 119.8h0M425.8 119.8h0M428.4 119.8h0M431.0 119.8h0M439.0 119.8h0M444.2 119.8h0M452.2 119.8h0M460.1 119.8h0M465.4 119.8h0M470.6 119.8h0M475.9 119.8h0M478.6 119.8h0M483.8 119.8h0M486.5 119.8h0M489.1 119.8h0M497.0 119.8h0M499.7 119.8h0M502.3 119.8h0M512.9 119.8h0M515.5 119.8h0M518.2 119.8h0M520.8 119.8h0M526.1 119.8h0M534.0 119.8h0M404.6 122.4h0M407.3 122.4h0M409.9 122.4h0M412.6 122.4h0M417.8 122.4h0M420.5 122.4h0M425.8 122.4h0M428.4 122.4h0M431.0 122.4h0M436.3 122.4h0M439.0 122.4h0M441.6 122.4h0M446.9 122.4h0M449.5 122.4h0M452.2 122.4h0M454.8 122.4h0M462.7 122.4h0M465.4 122.4h0M468.0 122.4h0M470.6 122.4h0M473.3 122.4h0M475.9 122.4h0M481.2 122.4h0M486.5 122.4h0M489.1 122.4h0M491.8 122.4h0M494.4 122.4h0M497.0 122.4h0M502.3 122.4h0M510.2 122.4h0M512.9 122.4h0M515.5 122.4h0M520.8 122.4h0M526.1 122.4h0M528.7 122.4h0M531.4 122.4h0M404.6 125.1h0M407.3 125.1h0M409.9 125.1h0M412.6 125.1h0M415.2 125.1h0M417.8 125.1h0M420.5 125.1h0M423.1 125.1h0M425.8 125.1h0M428.4 125.1h0M431.0 125.1h0M433.7 125.1h0M436.3 125.1h0M439.0 125.1h0M441.6 125.1h0M444.2 125.1h0M446.9 125.1h0M452.2 125.1h0M454.8 125.1h0M457.4 125.1h0M470.6 125.1h0M473.3 125.1h0M481.2 125.1h0M486.5 125.1h0M489.1 125.1h0M491.8 125.1h0M494.4 125.1h0M497.0 125.1h0M499.7 125.1h0M507.6 125.1h0M512.9 125.1h0M515.5 125.1h0M518.2 125.1h0M520.8 125.1h0M523.4 125.1h0M526.1 125.1h0M531.4 125.1h0M404.6 127.7h0M407.3 127.7h0M409.9 127.7h0M412.6 127.7h0M415.2 127.7h0M417.8 127.7h0M420.5 127.7h0M423.1 127.7h0M425.8 127.7h0M428.4 127.7h0M431.0 127.7h0M433.7 127.7h0M439.0 127.7h0M446.9 127.7h0M449.5 127.7h0M452.2 127.7h0M460.1 127.7h0M462.7 127.7h0M470.6 127.7h0M473.3 127.7h0M475.9 127.7h0M478.6 127.7h0M481.2 127.7h0M483.8 127.7h0M489.1 127.7h0M491.8 127.7h0M494.4 127.7h0M497.0 127.7h0M499.7 127.7h0M502.3 127.7h0M507.6 127.7h0M510.2 127.7h0M512.9 127.7h0M515.5 127.7h0M518.2 127.7h0M520.8 127.7h0M523.4 127.7h0M528.7 127.7h0M531.4 127.7h0M534.0 127.7h0M404.6 130.3h0M407.3 130.3h0M412.6 130.3h0M415.2 130.3h0M417.8 130.3h0M420.5 130.3h0M423.1 130.3h0M425.8 130.3h0M428.4 130.3h0M431.0 130.3h0M433.7 130.3h0M441.6 130.3h0M446.9 130.3h0M449.5 130.3h0M452.2 130.3h0M457.4 130.3h0M460.1 130.3h0M462.7 130.3h0M465.4 130.3h0M470.6 130.3h0M473.3 130.3h0M478.6 130.3h0M481.2 130.3h0M483.8 130.3h0M486.5 130.3h0M491.8 130.3h0M494.4 130.3h0M497.0 130.3h0M499.7 130.3h0M502.3 130.3h0M505.0 130.3h0M510.2 130.3h0M520.8 130.3h0M523.4 130.3h0M526.1 130.3h0M528.7 130.3h0M531.4 130.3h0M534.0 130.3h0M404.6 133.0h0M407.3 133.0h0M409.9 133.0h0M412.6 133.0h0M415.2 133.0h0M417.8 133.0h0M420.5 133.0h0M423.1 133.0h0M425.8 133.0h0M428.4 133.0h0M433.7 133.0h0M436.3 133.0h0M439.0 133.0h0M441.6 133.0h0M444.2 133.0h0M449.5 133.0h0M452.2 133.0h0M454.8 133.0h0M457.4 133.0h0M460.1 133.0h0M462.7 133.0h0M465.4 133.0h0M468.0 133.0h0M470.6 133.0h0M473.3 133.0h0M475.9 133.0h0M478.6 133.0h0M481.2 133.0h0M483.8 133.0h0M486.5 133.0h0M491.8 133.0h0M494.4 133.0h0M497.0 133.0h0M499.7 133.0h0M502.3 133.0h0M505.0 133.0h0M507.6 133.0h0M510.2 133.0h0M515.5 133.0h0M518.2 133.0h0M520.8 133.0h0M523.4 133.0h0M526.1 133.0h0M528.7 133.0h0M531.4 133.0h0M534.0 133.0h0M407.3 135.6h0M415.2 135.6h0M417.8 135.6h0M420.5 135.6h0M423.1 135.6h0M425.8 135.6h0M428.4 135.6h0M436.3 135.6h0M439.0 135.6h0M441.6 135.6h0M444.2 135.6h0M446.9 135.6h0M449.5 135.6h0M452.2 135.6h0M454.8 135.6h0M457.4 135.6h0M460.1 135.6h0M465.4 135.6h0M468.0 135.6h0M470.6 135.6h0M473.3 135.6h0M475.9 135.6h0M478.6 135.6h0M481.2 135.6h0M483.8 135.6h0M486.5 135.6h0M489.1 135.6h0M494.4 135.6h0M497.0 135.6h0M499.7 135.6h0M502.3 135.6h0M505.0 135.6h0M507.6 135.6h0M510.2 135.6h0M512.9 135.6h0M515.5 135.6h0M520.8 135.6h0M523.4 135.6h0M526.1 135.6h0M528.7 135.6h0M531.4 135.6h0M534.0 135.6h0M404.6 138.3h0M407.3 138.3h0M412.6 138.3h0M415.2 138.3h0M420.5 138.3h0M423.1 138.3h0M425.8 138.3h0M428.4 138.3h0M431.0 138.3h0M433.7 138.3h0M436.3 138.3h0M439.0 138.3h0M441.6 138.3h0M444.2 138.3h0M446.9 138.3h0M449.5 138.3h0M452.2 138.3h0M454.8 138.3h0M457.4 138.3h0M460.1 138.3h0M462.7 138.3h0M468.0 138.3h0M470.6 138.3h0M473.3 138.3h0M475.9 138.3h0M478.6 138.3h0M481.2 138.3h0M483.8 138.3h0M486.5 138.3h0M489.1 138.3h0M491.8 138.3h0M494.4 138.3h0M499.7 138.3h0M502.3 138.3h0M505.0 138.3h0M507.6 138.3h0M510.2 138.3h0M512.9 138.3h0M515.5 138.3h0M518.2 138.3h0M520.8 138.3h0M523.4 138.3h0M526.1 138.3h0M528.7 138.3h0M531.4 138.3h0M534.0 138.3h0M404.6 140.9h0M407.3 140.9h0M412.6 140.9h0M415.2 140.9h0M423.1 140.9h0M425.8 140.9h0M431.0 140.9h0M433.7 140.9h0M436.3 140.9h0M439.0 140.9h0M441.6 140.9h0M444.2 140.9h0M446.9 140.9h0M449.5 140.9h0M468.0 140.9h0M473.3 140.9h0M475.9 140.9h0M478.6 140.9h0M481.2 140.9h0M483.8 140.9h0M489.1 140.9h0M497.0 140.9h0M499.7 140.9h0M505.0 140.9h0M507.6 140.9h0M510.2 140.9h0M512.9 140.9h0M518.2 140.9h0M520.8 140.9h0M523.4 140.9h0M526.1 140.9h0M528.7 140.9h0M531.4 140.9h0M534.0 140.9h0M431.0 143.5h0M436.3 143.5h0M439.0 143.5h0M441.6 143.5h0M470.6 143.5h0M473.3 143.5h0M475.9 143.5h0M486.5 143.5h0M491.8 143.5h0M494.4 143.5h0M499.7 143.5h0M502.3 143.5h0M505.0 143.5h0M510.2 143.5h0M520.8 143.5h0M526.1 143.5h0M528.7 143.5h0M531.4 143.5h0" stroke="#f59a0c" stroke-width="2.7" stroke-linecap="round" fill="none"/>
<path d="M478.6 88.2h0M481.2 88.2h0M483.8 88.2h0M486.5 88.2h0M481.2 90.8h0M483.8 90.8h0M486.5 90.8h0M489.1 90.8h0M486.5 93.4h0M486.5 96.1h0" stroke="#aa36a2" stroke-width="2.7" stroke-linecap="round" fill="none"/>
<path d="M515.5 90.8h0M465.4 96.1h0M481.2 96.1h0M486.5 111.9h0M491.8 114.5h0M449.5 125.1h0M409.9 130.3h0M439.0 130.3h0M431.0 133.0h0M412.6 135.6h0M409.9 138.3h0M417.8 138.3h0M465.4 138.3h0M497.0 138.3h0M409.9 140.9h0M420.5 140.9h0M428.4 140.9h0M452.2 140.9h0M460.1 140.9h0M470.6 140.9h0M486.5 140.9h0M491.8 140.9h0M494.4 140.9h0M502.3 140.9h0M515.5 140.9h0M404.6 143.5h0M412.6 143.5h0M428.4 143.5h0M433.7 143.5h0M444.2 143.5h0M446.9 143.5h0M449.5 143.5h0M457.4 143.5h0M481.2 143.5h0M489.1 143.5h0M507.6 143.5h0M523.4 143.5h0M534.0 143.5h0" stroke="#0a8038" stroke-width="2.7" stroke-linecap="round" fill="none"/>
<path d="M494.4 46.0h0M494.4 48.6h0M475.9 77.6h0M475.9 80.2h0M425.8 85.5h0M428.4 85.5h0M534.0 85.5h0M534.0 88.2h0M465.4 109.2h0M468.0 109.2h0M449.5 111.9h0M452.2 111.9h0M425.8 114.5h0M449.5 114.5h0M425.8 117.2h0M449.5 117.2h0M454.8 117.2h0M473.3 117.2h0M531.4 117.2h0M449.5 119.8h0M454.8 119.8h0M473.3 119.8h0M491.8 119.8h0M494.4 119.8h0M531.4 119.8h0M534.0 122.4h0M460.1 125.1h0M462.7 125.1h0M534.0 125.1h0M436.3 127.7h0M441.6 127.7h0M444.2 127.7h0M454.8 127.7h0M436.3 130.3h0M454.8 130.3h0M489.1 130.3h0M489.1 133.0h0M431.0 135.6h0M433.7 135.6h0M454.8 140.9h0M457.4 140.9h0M420.5 143.5h0M423.1 143.5h0" stroke="#2f4fc4" stroke-width="2.7" stroke-linecap="round" fill="none"/>
<text class="t" transform="translate(469.5,13.5) scale(1,1.15)" text-anchor="middle" xml:space="preserve">t = 160.77  <tspan class="i">μs</tspan></text>
<text class="n" x="398.6" y="19.8" text-anchor="end">51</text>
<text class="n" x="399.4" y="155.0" text-anchor="end">0</text>
<text class="n" x="401.8" y="162.3" text-anchor="middle">0</text>
<text class="n" x="536.1" y="162.3" text-anchor="middle">51</text>
<text class="n i" x="468.7" y="173.6" text-anchor="middle">x</text>
<text class="n i" transform="translate(385.5,84.4) rotate(-90)" text-anchor="middle">z</text>
<text class="l" x="409.0" y="36.0">c</text>
</g>
<g id="panel-d">
<rect x="28.50" y="202.90" width="140.10" height="140.20" fill="#fff" stroke="#808080" stroke-width="1"/>
<path d="M31.1 205.7h0M33.8 205.7h0M36.6 205.7h0M39.3 205.7h0M42.1 205.7h0M44.8 205.7h0M47.6 205.7h0M50.3 205.7h0M53.1 205.7h0M55.8 205.7h0M58.5 205.7h0M61.3 205.7h0M64.0 205.7h0M66.8 205.7h0M69.5 205.7h0M72.3 205.7h0M75.0 205.7h0M77.8 205.7h0M80.5 205.7h0M83.3 205.7h0M86.0 205.7h0M88.8 205.7h0M91.5 205.7h0M94.3 205.7h0M97.0 205.7h0M99.7 205.7h0M102.5 205.7h0M105.2 205.7h0M108.0 205.7h0M110.7 205.7h0M113.5 205.7h0M116.2 205.7h0M119.0 205.7h0M121.7 205.7h0M124.5 205.7h0M127.2 205.7h0M130.0 205.7h0M132.7 205.7h0M135.4 205.7h0M138.2 205.7h0M140.9 205.7h0M143.7 205.7h0M146.4 205.7h0M149.2 205.7h0M151.9 205.7h0M154.7 205.7h0M157.4 205.7h0M160.2 205.7h0M162.9 205.7h0M165.7 205.7h0" stroke="#5c5c5c" stroke-width="2.3" stroke-linecap="round" fill="none"/>
<path d="M31.1 340.4h0M33.8 340.4h0M36.6 340.4h0M39.3 340.4h0M42.1 340.4h0M44.8 340.4h0M47.6 340.4h0M50.3 340.4h0M53.1 340.4h0M55.8 340.4h0M58.5 340.4h0M61.3 340.4h0M64.0 340.4h0M66.8 340.4h0M69.5 340.4h0M72.3 340.4h0M75.0 340.4h0M77.8 340.4h0M80.5 340.4h0M83.3 340.4h0M86.0 340.4h0M88.8 340.4h0M91.5 340.4h0M94.3 340.4h0M97.0 340.4h0M99.7 340.4h0M102.5 340.4h0M105.2 340.4h0M108.0 340.4h0M110.7 340.4h0M113.5 340.4h0M116.2 340.4h0M119.0 340.4h0M121.7 340.4h0M124.5 340.4h0M127.2 340.4h0M130.0 340.4h0M132.7 340.4h0M135.4 340.4h0M138.2 340.4h0M140.9 340.4h0M143.7 340.4h0M146.4 340.4h0M149.2 340.4h0M151.9 340.4h0M154.7 340.4h0M157.4 340.4h0M160.2 340.4h0M162.9 340.4h0M165.7 340.4h0" stroke="#000000" stroke-width="2.7" stroke-linecap="round" fill="none"/>
<path d="M44.8 332.1h0M91.5 332.1h0M94.3 332.1h0M113.5 332.1h0M127.2 332.1h0M36.6 334.9h0M42.1 334.9h0M44.8 334.9h0M53.1 334.9h0M77.8 334.9h0M80.5 334.9h0M83.3 334.9h0M88.8 334.9h0M91.5 334.9h0M94.3 334.9h0M97.0 334.9h0M99.7 334.9h0M105.2 334.9h0M108.0 334.9h0M113.5 334.9h0M116.2 334.9h0M121.7 334.9h0M124.5 334.9h0M127.2 334.9h0M130.0 334.9h0M132.7 334.9h0M135.4 334.9h0M138.2 334.9h0M143.7 334.9h0M146.4 334.9h0M149.2 334.9h0M31.1 337.6h0M33.8 337.6h0M36.6 337.6h0M39.3 337.6h0M42.1 337.6h0M44.8 337.6h0M47.6 337.6h0M50.3 337.6h0M53.1 337.6h0M55.8 337.6h0M58.5 337.6h0M61.3 337.6h0M64.0 337.6h0M66.8 337.6h0M69.5 337.6h0M72.3 337.6h0M75.0 337.6h0M77.8 337.6h0M80.5 337.6h0M83.3 337.6h0M86.0 337.6h0M88.8 337.6h0M91.5 337.6h0M94.3 337.6h0M97.0 337.6h0M99.7 337.6h0M102.5 337.6h0M105.2 337.6h0M108.0 337.6h0M110.7 337.6h0M113.5 337.6h0M116.2 337.6h0M119.0 337.6h0M121.7 337.6h0M124.5 337.6h0M127.2 337.6h0M130.0 337.6h0M132.7 337.6h0M135.4 337.6h0M138.2 337.6h0M140.9 337.6h0M143.7 337.6h0M146.4 337.6h0M149.2 337.6h0M151.9 337.6h0M154.7 337.6h0M157.4 337.6h0M160.2 337.6h0M162.9 337.6h0M165.7 337.6h0" stroke="#ee1c24" stroke-width="2.7" stroke-linecap="round" fill="none"/>
<path d="M42.1 211.2h0M135.4 211.2h0M75.0 216.7h0M33.8 219.4h0M124.5 219.4h0M132.7 219.4h0M33.8 222.2h0M99.7 222.2h0M110.7 224.9h0M58.5 227.7h0M69.5 227.7h0M91.5 227.7h0M97.0 227.7h0M151.9 227.7h0M42.1 230.4h0M72.3 230.4h0M124.5 230.4h0M165.7 230.4h0M36.6 233.2h0M58.5 233.2h0M77.8 233.2h0M91.5 233.2h0M99.7 233.2h0M127.2 233.2h0M162.9 233.2h0M69.5 235.9h0M108.0 235.9h0M135.4 235.9h0M143.7 235.9h0M31.1 238.7h0M102.5 238.7h0M130.0 238.7h0M39.3 241.4h0M50.3 241.4h0M75.0 241.4h0M138.2 241.4h0M143.7 241.4h0M149.2 241.4h0M160.2 241.4h0M162.9 241.4h0M47.6 244.2h0M61.3 244.2h0M66.8 244.2h0M86.0 244.2h0M102.5 244.2h0M113.5 244.2h0M39.3 246.9h0M42.1 246.9h0M58.5 246.9h0M66.8 246.9h0M77.8 246.9h0M80.5 246.9h0M99.7 246.9h0M105.2 246.9h0M135.4 246.9h0M162.9 246.9h0M31.1 249.7h0M36.6 249.7h0M47.6 249.7h0M75.0 249.7h0M91.5 249.7h0M119.0 249.7h0M143.7 249.7h0M149.2 249.7h0M162.9 249.7h0M165.7 249.7h0M31.1 252.4h0M33.8 252.4h0M50.3 252.4h0M66.8 252.4h0M77.8 252.4h0M102.5 252.4h0M113.5 252.4h0M154.7 252.4h0M162.9 252.4h0M31.1 255.2h0M44.8 255.2h0M66.8 255.2h0M69.5 255.2h0M80.5 255.2h0M97.0 255.2h0M102.5 255.2h0M119.0 255.2h0M121.7 255.2h0M135.4 255.2h0M138.2 255.2h0M143.7 255.2h0M149.2 255.2h0M160.2 255.2h0M33.8 257.9h0M47.6 257.9h0M50.3 257.9h0M55.8 257.9h0M61.3 257.9h0M69.5 257.9h0M135.4 257.9h0M149.2 257.9h0M31.1 260.7h0M39.3 260.7h0M44.8 260.7h0M50.3 260.7h0M77.8 260.7h0M80.5 260.7h0M113.5 260.7h0M127.2 260.7h0M140.9 260.7h0M165.7 260.7h0M36.6 263.4h0M64.0 263.4h0M91.5 263.4h0M138.2 263.4h0M157.4 263.4h0M55.8 266.2h0M64.0 266.2h0M75.0 266.2h0M91.5 266.2h0M110.7 266.2h0M113.5 266.2h0M135.4 266.2h0M165.7 266.2h0M31.1 268.9h0M53.1 268.9h0M61.3 268.9h0M69.5 268.9h0M80.5 268.9h0M88.8 268.9h0M132.7 268.9h0M140.9 268.9h0M154.7 268.9h0M165.7 268.9h0M36.6 271.7h0M39.3 271.7h0M42.1 271.7h0M47.6 271.7h0M61.3 271.7h0M83.3 271.7h0M149.2 271.7h0M151.9 271.7h0M154.7 271.7h0M157.4 271.7h0M165.7 271.7h0M31.1 274.4h0M36.6 274.4h0M42.1 274.4h0M53.1 274.4h0M69.5 274.4h0M75.0 274.4h0M116.2 274.4h0M127.2 274.4h0M138.2 274.4h0M151.9 274.4h0M157.4 274.4h0M165.7 274.4h0M31.1 277.2h0M44.8 277.2h0M58.5 277.2h0M66.8 277.2h0M80.5 277.2h0M83.3 277.2h0M86.0 277.2h0M88.8 277.2h0M91.5 277.2h0M121.7 277.2h0M127.2 277.2h0M135.4 277.2h0M151.9 277.2h0M31.1 279.9h0M33.8 279.9h0M53.1 279.9h0M55.8 279.9h0M66.8 279.9h0M88.8 279.9h0M94.3 279.9h0M124.5 279.9h0M143.7 279.9h0M149.2 279.9h0M151.9 279.9h0M162.9 279.9h0M33.8 282.7h0M36.6 282.7h0M50.3 282.7h0M53.1 282.7h0M64.0 282.7h0M69.5 282.7h0M80.5 282.7h0M83.3 282.7h0M88.8 282.7h0M91.5 282.7h0M138.2 282.7h0M151.9 282.7h0M160.2 282.7h0M31.1 285.4h0M33.8 285.4h0M36.6 285.4h0M44.8 285.4h0M50.3 285.4h0M58.5 285.4h0M72.3 285.4h0M94.3 285.4h0M97.0 285.4h0M121.7 285.4h0M140.9 285.4h0M143.7 285.4h0M146.4 285.4h0M149.2 285.4h0M165.7 285.4h0M33.8 288.2h0M42.1 288.2h0M47.6 288.2h0M55.8 288.2h0M58.5 288.2h0M61.3 288.2h0M66.8 288.2h0M77.8 288.2h0M80.5 288.2h0M94.3 288.2h0M127.2 288.2h0M135.4 288.2h0M138.2 288.2h0M143.7 288.2h0M154.7 288.2h0M162.9 288.2h0M165.7 288.2h0M36.6 290.9h0M47.6 290.9h0M53.1 290.9h0M58.5 290.9h0M83.3 290.9h0M86.0 290.9h0M124.5 290.9h0M138.2 290.9h0M149.2 290.9h0M157.4 290.9h0M160.2 290.9h0M31.1 293.6h0M33.8 293.6h0M36.6 293.6h0M50.3 293.6h0M53.1 293.6h0M55.8 293.6h0M77.8 293.6h0M88.8 293.6h0M119.0 293.6h0M121.7 293.6h0M124.5 293.6h0M140.9 293.6h0M143.7 293.6h0M149.2 293.6h0M162.9 293.6h0M165.7 293.6h0M33.8 296.4h0M36.6 296.4h0M44.8 296.4h0M55.8 296.4h0M58.5 296.4h0M66.8 296.4h0M69.5 296.4h0M72.3 296.4h0M75.0 296.4h0M88.8 296.4h0M108.0 296.4h0M110.7 296.4h0M113.5 296.4h0M132.7 296.4h0M151.9 296.4h0M154.7 296.4h0M165.7 296.4h0M33.8 299.1h0M36.6 299.1h0M39.3 299.1h0M44.8 299.1h0M61.3 299.1h0M75.0 299.1h0M88.8 299.1h0M99.7 299.1h0M119.0 299.1h0M130.0 299.1h0M135.4 299.1h0M138.2 299.1h0M140.9 299.1h0M143.7 299.1h0M162.9 299.1h0M165.7 299.1h0M36.6 301.9h0M47.6 301.9h0M50.3 301.9h0M55.8 301.9h0M69.5 301.9h0M72.3 301.9h0M77.8 301.9h0M83.3 301.9h0M86.0 301.9h0M88.8 301.9h0M94.3 301.9h0M102.5 301.9h0M110.7 301.9h0M113.5 301.9h0M116.2 301.9h0M130.0 301.9h0M143.7 301.9h0M154.7 301.9h0M160.2 301.9h0M165.7 301.9h0M33.8 304.6h0M36.6 304.6h0M39.3 304.6h0M44.8 304.6h0M47.6 304.6h0M55.8 304.6h0M64.0 304.6h0M69.5 304.6h0M72.3 304.6h0M86.0 304.6h0M91.5 304.6h0M94.3 304.6h0M97.0 304.6h0M99.7 304.6h0M108.0 304.6h0M121.7 304.6h0M124.5 304.6h0M135.4 304.6h0M154.7 304.6h0M157.4 304.6h0M162.9 304.6h0M165.7 304.6h0M31.1 307.4h0M36.6 307.4h0M39.3 307.4h0M50.3 307.4h0M53.1 307.4h0M55.8 307.4h0M61.3 307.4h0M77.8 307.4h0M80.5 307.4h0M83.3 307.4h0M86.0 307.4h0M88.8 307.4h0M97.0 307.4h0M99.7 307.4h0M105.2 307.4h0M108.0 307.4h0M116.2 307.4h0M132.7 307.4h0M135.4 307.4h0M138.2 307.4h0M140.9 307.4h0M151.9 307.4h0M157.4 307.4h0M160.2 307.4h0M162.9 307.4h0M165.7 307.4h0M36.6 310.1h0M44.8 310.1h0M50.3 310.1h0M53.1 310.1h0M61.3 310.1h0M66.8 310.1h0M75.0 310.1h0M88.8 310.1h0M91.5 310.1h0M94.3 310.1h0M97.0 310.1h0M99.7 310.1h0M127.2 310.1h0M132.7 310.1h0M135.4 310.1h0M138.2 310.1h0M140.9 310.1h0M149.2 310.1h0M160.2 310.1h0M33.8 312.9h0M39.3 312.9h0M44.8 312.9h0M53.1 312.9h0M55.8 312.9h0M61.3 312.9h0M66.8 312.9h0M69.5 312.9h0M72.3 312.9h0M88.8 312.9h0M91.5 312.9h0M94.3 312.9h0M97.0 312.9h0M99.7 312.9h0M102.5 312.9h0M108.0 312.9h0M110.7 312.9h0M116.2 312.9h0M119.0 312.9h0M121.7 312.9h0M124.5 312.9h0M130.0 312.9h0M135.4 312.9h0M138.2 312.9h0M140.9 312.9h0M143.7 312.9h0M149.2 312.9h0M154.7 312.9h0M157.4 312.9h0M162.9 312.9h0M31.1 315.6h0M33.8 315.6h0M36.6 315.6h0M39.3 315.6h0M42.1 315.6h0M44.8 315.6h0M53.1 315.6h0M55.8 315.6h0M72.3 315.6h0M80.5 315.6h0M83.3 315.6h0M91.5 315.6h0M105.2 315.6h0M108.0 315.6h0M116.2 315.6h0M119.0 315.6h0M121.7 315.6h0M127.2 315.6h0M135.4 315.6h0M138.2 315.6h0M140.9 315.6h0M143.7 315.6h0M151.9 315.6h0M160.2 315.6h0M162.9 315.6h0M165.7 315.6h0M31.1 318.4h0M33.8 318.4h0M36.6 318.4h0M39.3 318.4h0M42.1 318.4h0M44.8 318.4h0M47.6 318.4h0M53.1 318.4h0M55.8 318.4h0M64.0 318.4h0M86.0 318.4h0M91.5 318.4h0M97.0 318.4h0M99.7 318.4h0M102.5 318.4h0M105.2 318.4h0M116.2 318.4h0M119.0 318.4h0M121.7 318.4h0M127.2 318.4h0M132.7 318.4h0M135.4 318.4h0M140.9 318.4h0M143.7 318.4h0M149.2 318.4h0M151.9 318.4h0M157.4 318.4h0M160.2 318.4h0M165.7 318.4h0M31.1 321.1h0M33.8 321.1h0M36.6 321.1h0M39.3 321.1h0M42.1 321.1h0M44.8 321.1h0M47.6 321.1h0M50.3 321.1h0M53.1 321.1h0M55.8 321.1h0M58.5 321.1h0M66.8 321.1h0M69.5 321.1h0M72.3 321.1h0M75.0 321.1h0M77.8 321.1h0M86.0 321.1h0M91.5 321.1h0M94.3 321.1h0M97.0 321.1h0M99.7 321.1h0M102.5 321.1h0M105.2 321.1h0M110.7 321.1h0M113.5 321.1h0M116.2 321.1h0M119.0 321.1h0M121.7 321.1h0M124.5 321.1h0M130.0 321.1h0M132.7 321.1h0M135.4 321.1h0M138.2 321.1h0M140.9 321.1h0M143.7 321.1h0M146.4 321.1h0M149.2 321.1h0M151.9 321.1h0M154.7 321.1h0M157.4 321.1h0M160.2 321.1h0M162.9 321.1h0M33.8 323.9h0M36.6 323.9h0M39.3 323.9h0M42.1 323.9h0M44.8 323.9h0M47.6 323.9h0M50.3 323.9h0M53.1 323.9h0M55.8 323.9h0M64.0 323.9h0M66.8 323.9h0M69.5 323.9h0M72.3 323.9h0M75.0 323.9h0M77.8 323.9h0M80.5 323.9h0M83.3 323.9h0M86.0 323.9h0M91.5 323.9h0M94.3 323.9h0M97.0 323.9h0M99.7 323.9h0M102.5 323.9h0M105.2 323.9h0M110.7 323.9h0M113.5 323.9h0M116.2 323.9h0M119.0 323.9h0M121.7 323.9h0M124.5 323.9h0M127.2 323.9h0M130.0 323.9h0M132.7 323.9h0M135.4 323.9h0M138.2 323.9h0M140.9 323.9h0M143.7 323.9h0M146.4 323.9h0M149.2 323.9h0M157.4 323.9h0M160.2 323.9h0M162.9 323.9h0M165.7 323.9h0M33.8 326.6h0M36.6 326.6h0M39.3 326.6h0M42.1 326.6h0M44.8 326.6h0M47.6 326.6h0M50.3 326.6h0M53.1 326.6h0M55.8 326.6h0M64.0 326.6h0M66.8 326.6h0M69.5 326.6h0M72.3 326.6h0M75.0 326.6h0M77.8 326.6h0M80.5 326.6h0M83.3 326.6h0M86.0 326.6h0M88.8 326.6h0M91.5 326.6h0M94.3 326.6h0M97.0 326.6h0M99.7 326.6h0M102.5 326.6h0M105.2 326.6h0M110.7 326.6h0M113.5 326.6h0M116.2 326.6h0M121.7 326.6h0M124.5 326.6h0M127.2 326.6h0M132.7 326.6h0M135.4 326.6h0M138.2 326.6h0M140.9 326.6h0M143.7 326.6h0M146.4 326.6h0M149.2 326.6h0M151.9 326.6h0M154.7 326.6h0M157.4 326.6h0M160.2 326.6h0M162.9 326.6h0M165.7 326.6h0M31.1 329.4h0M33.8 329.4h0M39.3 329.4h0M42.1 329.4h0M47.6 329.4h0M53.1 329.4h0M55.8 329.4h0M58.5 329.4h0M61.3 329.4h0M64.0 329.4h0M69.5 329.4h0M75.0 329.4h0M77.8 329.4h0M80.5 329.4h0M83.3 329.4h0M86.0 329.4h0M88.8 329.4h0M94.3 329.4h0M97.0 329.4h0M99.7 329.4h0M102.5 329.4h0M105.2 329.4h0M108.0 329.4h0M110.7 329.4h0M116.2 329.4h0M119.0 329.4h0M121.7 329.4h0M124.5 329.4h0M130.0 329.4h0M132.7 329.4h0M135.4 329.4h0M138.2 329.4h0M140.9 329.4h0M143.7 329.4h0M146.4 329.4h0M149.2 329.4h0M151.9 329.4h0M154.7 329.4h0M157.4 329.4h0M160.2 329.4h0M162.9 329.4h0M165.7 329.4h0M31.1 332.1h0M33.8 332.1h0M39.3 332.1h0M42.1 332.1h0M50.3 332.1h0M53.1 332.1h0M55.8 332.1h0M58.5 332.1h0M61.3 332.1h0M64.0 332.1h0M66.8 332.1h0M69.5 332.1h0M72.3 332.1h0M75.0 332.1h0M77.8 332.1h0M99.7 332.1h0M102.5 332.1h0M105.2 332.1h0M108.0 332.1h0M110.7 332.1h0M116.2 332.1h0M119.0 332.1h0M132.7 332.1h0M135.4 332.1h0M138.2 332.1h0M140.9 332.1h0M143.7 332.1h0M146.4 332.1h0M151.9 332.1h0M154.7 332.1h0M157.4 332.1h0M160.2 332.1h0M162.9 332.1h0M165.7 332.1h0M31.1 334.9h0M58.5 334.9h0M61.3 334.9h0M66.8 334.9h0M69.5 334.9h0M75.0 334.9h0M154.7 334.9h0M157.4 334.9h0M160.2 334.9h0M162.9 334.9h0" stroke="#f59a0c" stroke-width="2.7" stroke-linecap="round" fill="none"/>
<path d="M105.2 260.7h0M102.5 263.4h0M105.2 263.4h0M97.0 266.2h0M105.2 266.2h0M94.3 268.9h0M97.0 268.9h0M99.7 268.9h0M102.5 268.9h0M105.2 268.9h0M94.3 271.7h0M97.0 271.7h0M99.7 271.7h0M105.2 271.7h0M97.0 274.4h0M99.7 274.4h0M102.5 274.4h0M105.2 274.4h0M108.0 274.4h0M110.7 274.4h0M99.7 277.2h0M102.5 277.2h0M105.2 277.2h0M108.0 277.2h0M110.7 277.2h0M113.5 277.2h0M102.5 279.9h0M105.2 279.9h0M108.0 279.9h0M110.7 279.9h0M113.5 279.9h0M116.2 279.9h0M119.0 279.9h0M102.5 282.7h0M105.2 282.7h0M108.0 282.7h0M110.7 282.7h0M113.5 282.7h0M102.5 285.4h0M105.2 285.4h0M108.0 285.4h0M110.7 285.4h0M113.5 285.4h0M116.2 285.4h0M99.7 288.2h0M102.5 288.2h0M105.2 288.2h0M108.0 288.2h0M113.5 288.2h0M116.2 288.2h0M97.0 290.9h0M99.7 290.9h0M102.5 290.9h0M105.2 290.9h0M108.0 290.9h0M113.5 290.9h0M105.2 293.6h0M97.0 296.4h0M99.7 296.4h0M102.5 296.4h0M105.2 296.4h0M97.0 299.1h0M105.2 299.1h0M105.2 301.9h0M105.2 304.6h0" stroke="#aa36a2" stroke-width="2.7" stroke-linecap="round" fill="none"/>
<path d="M157.4 279.9h0M80.5 290.9h0M77.8 296.4h0M33.8 301.9h0M36.6 312.9h0M69.5 315.6h0M102.5 315.6h0M108.0 318.4h0M61.3 323.9h0M88.8 323.9h0M119.0 326.6h0M130.0 326.6h0M36.6 329.4h0M44.8 329.4h0M91.5 329.4h0M113.5 329.4h0M127.2 329.4h0M36.6 332.1h0M47.6 332.1h0M80.5 332.1h0M88.8 332.1h0M97.0 332.1h0M121.7 332.1h0M124.5 332.1h0M130.0 332.1h0M149.2 332.1h0M33.8 334.9h0M39.3 334.9h0M55.8 334.9h0M64.0 334.9h0M72.3 334.9h0M86.0 334.9h0M102.5 334.9h0M110.7 334.9h0M119.0 334.9h0M140.9 334.9h0M151.9 334.9h0M165.7 334.9h0" stroke="#0a8038" stroke-width="2.7" stroke-linecap="round" fill="none"/>
<path d="M130.0 230.4h0M132.7 230.4h0M55.8 268.9h0M55.8 271.7h0M157.4 277.2h0M160.2 277.2h0M69.5 293.6h0M72.3 293.6h0M47.6 296.4h0M86.0 296.4h0M47.6 299.1h0M80.5 299.1h0M83.3 299.1h0M86.0 299.1h0M119.0 301.9h0M119.0 304.6h0M80.5 310.1h0M116.2 310.1h0M119.0 310.1h0M162.9 310.1h0M165.7 310.1h0M80.5 312.9h0M66.8 315.6h0M94.3 315.6h0M154.7 315.6h0M66.8 318.4h0M69.5 318.4h0M72.3 318.4h0M88.8 318.4h0M94.3 318.4h0M154.7 318.4h0M88.8 321.1h0M151.9 323.9h0M154.7 323.9h0M58.5 326.6h0M61.3 326.6h0M83.3 332.1h0M86.0 332.1h0M47.6 334.9h0M50.3 334.9h0" stroke="#2f4fc4" stroke-width="2.7" stroke-linecap="round" fill="none"/>
<text class="t" transform="translate(98.8,199.6) scale(1,1.15)" text-anchor="middle" xml:space="preserve">t = 170.79  <tspan class="i">μs</tspan></text>
<text class="n" x="25.1" y="205.8" text-anchor="end">51</text>
<text class="n" x="25.9" y="346.8" text-anchor="end">0</text>
<text class="n" x="28.3" y="354.1" text-anchor="middle">0</text>
<text class="n" x="168.1" y="354.1" text-anchor="middle">51</text>
<text class="n i" x="98.0" y="365.4" text-anchor="middle">x</text>
<text class="n i" transform="translate(12.0,273.3) rotate(-90)" text-anchor="middle">z</text>
<text class="l" x="35.5" y="223.6">d</text>
</g>
<g id="panel-e">
<rect x="214.90" y="203.55" width="139.50" height="139.40" fill="#fff" stroke="#808080" stroke-width="1"/>
<path d="M217.6 206.0h0M220.4 206.0h0M223.1 206.0h0M225.8 206.0h0M228.6 206.0h0M231.3 206.0h0M234.0 206.0h0M236.8 206.0h0M239.5 206.0h0M242.3 206.0h0M245.0 206.0h0M247.7 206.0h0M250.5 206.0h0M253.2 206.0h0M255.9 206.0h0M258.7 206.0h0M261.4 206.0h0M264.1 206.0h0M266.9 206.0h0M269.6 206.0h0M272.3 206.0h0M275.1 206.0h0M277.8 206.0h0M280.5 206.0h0M283.3 206.0h0M286.0 206.0h0M288.7 206.0h0M291.5 206.0h0M294.2 206.0h0M297.0 206.0h0M299.7 206.0h0M302.4 206.0h0M305.2 206.0h0M307.9 206.0h0M310.6 206.0h0M313.4 206.0h0M316.1 206.0h0M318.8 206.0h0M321.6 206.0h0M324.3 206.0h0M327.0 206.0h0M329.8 206.0h0M332.5 206.0h0M335.2 206.0h0M338.0 206.0h0M340.7 206.0h0M343.4 206.0h0M346.2 206.0h0M348.9 206.0h0M351.6 206.0h0" stroke="#5c5c5c" stroke-width="2.3" stroke-linecap="round" fill="none"/>
<path d="M217.6 340.2h0M220.4 340.2h0M223.1 340.2h0M225.8 340.2h0M228.6 340.2h0M231.3 340.2h0M234.0 340.2h0M236.8 340.2h0M239.5 340.2h0M242.3 340.2h0M245.0 340.2h0M247.7 340.2h0M250.5 340.2h0M253.2 340.2h0M255.9 340.2h0M258.7 340.2h0M261.4 340.2h0M264.1 340.2h0M266.9 340.2h0M269.6 340.2h0M272.3 340.2h0M275.1 340.2h0M277.8 340.2h0M280.5 340.2h0M283.3 340.2h0M286.0 340.2h0M288.7 340.2h0M291.5 340.2h0M294.2 340.2h0M297.0 340.2h0M299.7 340.2h0M302.4 340.2h0M305.2 340.2h0M307.9 340.2h0M310.6 340.2h0M313.4 340.2h0M316.1 340.2h0M318.8 340.2h0M321.6 340.2h0M324.3 340.2h0M327.0 340.2h0M329.8 340.2h0M332.5 340.2h0M335.2 340.2h0M338.0 340.2h0M340.7 340.2h0M343.4 340.2h0M346.2 340.2h0M348.9 340.2h0M351.6 340.2h0" stroke="#000000" stroke-width="2.7" stroke-linecap="round" fill="none"/>
<path d="M313.4 329.2h0M231.3 332.0h0M277.8 332.0h0M280.5 332.0h0M299.7 332.0h0M302.4 332.0h0M313.4 332.0h0M220.4 334.7h0M223.1 334.7h0M228.6 334.7h0M231.3 334.7h0M239.5 334.7h0M264.1 334.7h0M266.9 334.7h0M269.6 334.7h0M275.1 334.7h0M277.8 334.7h0M280.5 334.7h0M283.3 334.7h0M288.7 334.7h0M291.5 334.7h0M294.2 334.7h0M299.7 334.7h0M302.4 334.7h0M305.2 334.7h0M310.6 334.7h0M313.4 334.7h0M316.1 334.7h0M318.8 334.7h0M332.5 334.7h0M335.2 334.7h0M217.6 337.5h0M220.4 337.5h0M223.1 337.5h0M225.8 337.5h0M228.6 337.5h0M231.3 337.5h0M234.0 337.5h0M236.8 337.5h0M239.5 337.5h0M242.3 337.5h0M245.0 337.5h0M247.7 337.5h0M250.5 337.5h0M253.2 337.5h0M255.9 337.5h0M258.7 337.5h0M261.4 337.5h0M264.1 337.5h0M266.9 337.5h0M269.6 337.5h0M272.3 337.5h0M275.1 337.5h0M277.8 337.5h0M280.5 337.5h0M283.3 337.5h0M286.0 337.5h0M288.7 337.5h0M291.5 337.5h0M294.2 337.5h0M297.0 337.5h0M299.7 337.5h0M302.4 337.5h0M305.2 337.5h0M307.9 337.5h0M310.6 337.5h0M313.4 337.5h0M316.1 337.5h0M318.8 337.5h0M321.6 337.5h0M324.3 337.5h0M327.0 337.5h0M329.8 337.5h0M332.5 337.5h0M335.2 337.5h0M338.0 337.5h0M340.7 337.5h0M343.4 337.5h0M346.2 337.5h0M348.9 337.5h0M351.6 337.5h0" stroke="#ee1c24" stroke-width="2.7" stroke-linecap="round" fill="none"/>
<path d="M234.0 211.5h0M245.0 219.7h0M305.2 219.7h0M324.3 219.7h0M340.7 219.7h0M228.6 222.4h0M266.9 225.2h0M294.2 225.2h0M316.1 225.2h0M220.4 227.9h0M234.0 227.9h0M236.8 227.9h0M313.4 227.9h0M266.9 230.6h0M286.0 230.6h0M313.4 230.6h0M245.0 233.4h0M291.5 233.4h0M338.0 233.4h0M220.4 236.1h0M236.8 236.1h0M245.0 236.1h0M269.6 236.1h0M318.8 236.1h0M348.9 236.1h0M228.6 238.9h0M302.4 238.9h0M343.4 238.9h0M253.2 241.6h0M310.6 241.6h0M316.1 241.6h0M324.3 241.6h0M343.4 241.6h0M220.4 244.3h0M261.4 244.3h0M280.5 244.3h0M351.6 244.3h0M245.0 247.1h0M266.9 247.1h0M286.0 247.1h0M291.5 247.1h0M305.2 247.1h0M321.6 247.1h0M340.7 247.1h0M351.6 247.1h0M217.6 249.8h0M250.5 249.8h0M297.0 249.8h0M324.3 249.8h0M351.6 249.8h0M225.8 252.6h0M258.7 252.6h0M261.4 252.6h0M264.1 252.6h0M277.8 252.6h0M286.0 252.6h0M294.2 252.6h0M318.8 252.6h0M225.8 255.3h0M231.3 255.3h0M250.5 255.3h0M310.6 255.3h0M242.3 258.0h0M299.7 258.0h0M318.8 258.0h0M335.2 258.0h0M346.2 258.0h0M217.6 260.8h0M223.1 260.8h0M228.6 260.8h0M236.8 260.8h0M253.2 260.8h0M258.7 260.8h0M264.1 260.8h0M346.2 260.8h0M228.6 263.5h0M253.2 263.5h0M269.6 263.5h0M299.7 263.5h0M305.2 263.5h0M316.1 263.5h0M343.4 263.5h0M351.6 263.5h0M228.6 266.3h0M242.3 266.3h0M258.7 266.3h0M327.0 266.3h0M329.8 266.3h0M220.4 269.0h0M236.8 269.0h0M343.4 269.0h0M220.4 271.7h0M223.1 271.7h0M231.3 271.7h0M242.3 271.7h0M245.0 271.7h0M264.1 271.7h0M329.8 271.7h0M236.8 274.5h0M239.5 274.5h0M242.3 274.5h0M253.2 274.5h0M255.9 274.5h0M272.3 274.5h0M313.4 274.5h0M318.8 274.5h0M324.3 274.5h0M327.0 274.5h0M338.0 274.5h0M343.4 274.5h0M348.9 274.5h0M217.6 277.2h0M223.1 277.2h0M225.8 277.2h0M228.6 277.2h0M239.5 277.2h0M242.3 277.2h0M245.0 277.2h0M321.6 277.2h0M329.8 277.2h0M217.6 279.9h0M234.0 279.9h0M236.8 279.9h0M264.1 279.9h0M272.3 279.9h0M338.0 279.9h0M346.2 279.9h0M217.6 282.7h0M223.1 282.7h0M231.3 282.7h0M234.0 282.7h0M236.8 282.7h0M245.0 282.7h0M255.9 282.7h0M269.6 282.7h0M324.3 282.7h0M329.8 282.7h0M335.2 282.7h0M346.2 282.7h0M231.3 285.4h0M234.0 285.4h0M236.8 285.4h0M255.9 285.4h0M266.9 285.4h0M321.6 285.4h0M329.8 285.4h0M351.6 285.4h0M217.6 288.2h0M225.8 288.2h0M236.8 288.2h0M245.0 288.2h0M250.5 288.2h0M258.7 288.2h0M266.9 288.2h0M272.3 288.2h0M318.8 288.2h0M321.6 288.2h0M324.3 288.2h0M338.0 288.2h0M343.4 288.2h0M217.6 290.9h0M225.8 290.9h0M234.0 290.9h0M250.5 290.9h0M253.2 290.9h0M316.1 290.9h0M321.6 290.9h0M324.3 290.9h0M329.8 290.9h0M239.5 293.6h0M253.2 293.6h0M255.9 293.6h0M313.4 293.6h0M321.6 293.6h0M324.3 293.6h0M338.0 293.6h0M346.2 293.6h0M217.6 296.4h0M225.8 296.4h0M231.3 296.4h0M236.8 296.4h0M250.5 296.4h0M253.2 296.4h0M321.6 296.4h0M324.3 296.4h0M348.9 296.4h0M351.6 296.4h0M220.4 299.1h0M225.8 299.1h0M231.3 299.1h0M234.0 299.1h0M242.3 299.1h0M250.5 299.1h0M255.9 299.1h0M313.4 299.1h0M321.6 299.1h0M346.2 299.1h0M351.6 299.1h0M217.6 301.9h0M220.4 301.9h0M223.1 301.9h0M228.6 301.9h0M236.8 301.9h0M242.3 301.9h0M247.7 301.9h0M310.6 301.9h0M313.4 301.9h0M318.8 301.9h0M324.3 301.9h0M327.0 301.9h0M329.8 301.9h0M338.0 301.9h0M340.7 301.9h0M343.4 301.9h0M346.2 301.9h0M348.9 301.9h0M223.1 304.6h0M228.6 304.6h0M231.3 304.6h0M239.5 304.6h0M242.3 304.6h0M245.0 304.6h0M247.7 304.6h0M307.9 304.6h0M310.6 304.6h0M321.6 304.6h0M324.3 304.6h0M343.4 304.6h0M348.9 304.6h0M223.1 307.3h0M225.8 307.3h0M231.3 307.3h0M239.5 307.3h0M242.3 307.3h0M245.0 307.3h0M247.7 307.3h0M272.3 307.3h0M316.1 307.3h0M321.6 307.3h0M329.8 307.3h0M340.7 307.3h0M343.4 307.3h0M351.6 307.3h0M217.6 310.1h0M225.8 310.1h0M228.6 310.1h0M231.3 310.1h0M234.0 310.1h0M236.8 310.1h0M239.5 310.1h0M242.3 310.1h0M245.0 310.1h0M247.7 310.1h0M272.3 310.1h0M275.1 310.1h0M318.8 310.1h0M321.6 310.1h0M324.3 310.1h0M327.0 310.1h0M329.8 310.1h0M338.0 310.1h0M343.4 310.1h0M351.6 310.1h0M225.8 312.8h0M228.6 312.8h0M236.8 312.8h0M239.5 312.8h0M245.0 312.8h0M247.7 312.8h0M250.5 312.8h0M272.3 312.8h0M275.1 312.8h0M305.2 312.8h0M307.9 312.8h0M313.4 312.8h0M321.6 312.8h0M324.3 312.8h0M327.0 312.8h0M338.0 312.8h0M346.2 312.8h0M351.6 312.8h0M220.4 315.6h0M225.8 315.6h0M228.6 315.6h0M234.0 315.6h0M239.5 315.6h0M250.5 315.6h0M253.2 315.6h0M255.9 315.6h0M264.1 315.6h0M266.9 315.6h0M269.6 315.6h0M272.3 315.6h0M275.1 315.6h0M305.2 315.6h0M307.9 315.6h0M310.6 315.6h0M313.4 315.6h0M316.1 315.6h0M332.5 315.6h0M335.2 315.6h0M338.0 315.6h0M340.7 315.6h0M343.4 315.6h0M346.2 315.6h0M348.9 315.6h0M351.6 315.6h0M220.4 318.3h0M225.8 318.3h0M228.6 318.3h0M234.0 318.3h0M236.8 318.3h0M239.5 318.3h0M250.5 318.3h0M258.7 318.3h0M264.1 318.3h0M266.9 318.3h0M272.3 318.3h0M275.1 318.3h0M305.2 318.3h0M307.9 318.3h0M310.6 318.3h0M316.1 318.3h0M318.8 318.3h0M327.0 318.3h0M329.8 318.3h0M335.2 318.3h0M338.0 318.3h0M340.7 318.3h0M348.9 318.3h0M351.6 318.3h0M217.6 321.0h0M220.4 321.0h0M223.1 321.0h0M225.8 321.0h0M228.6 321.0h0M231.3 321.0h0M234.0 321.0h0M236.8 321.0h0M242.3 321.0h0M245.0 321.0h0M247.7 321.0h0M250.5 321.0h0M253.2 321.0h0M255.9 321.0h0M258.7 321.0h0M261.4 321.0h0M264.1 321.0h0M266.9 321.0h0M269.6 321.0h0M272.3 321.0h0M275.1 321.0h0M302.4 321.0h0M305.2 321.0h0M307.9 321.0h0M310.6 321.0h0M318.8 321.0h0M321.6 321.0h0M324.3 321.0h0M327.0 321.0h0M329.8 321.0h0M332.5 321.0h0M338.0 321.0h0M340.7 321.0h0M343.4 321.0h0M346.2 321.0h0M348.9 321.0h0M217.6 323.8h0M220.4 323.8h0M223.1 323.8h0M225.8 323.8h0M228.6 323.8h0M234.0 323.8h0M236.8 323.8h0M242.3 323.8h0M245.0 323.8h0M247.7 323.8h0M250.5 323.8h0M253.2 323.8h0M255.9 323.8h0M258.7 323.8h0M261.4 323.8h0M264.1 323.8h0M266.9 323.8h0M269.6 323.8h0M272.3 323.8h0M280.5 323.8h0M283.3 323.8h0M291.5 323.8h0M294.2 323.8h0M302.4 323.8h0M305.2 323.8h0M307.9 323.8h0M318.8 323.8h0M321.6 323.8h0M324.3 323.8h0M327.0 323.8h0M329.8 323.8h0M332.5 323.8h0M338.0 323.8h0M340.7 323.8h0M343.4 323.8h0M346.2 323.8h0M351.6 323.8h0M217.6 326.5h0M220.4 326.5h0M223.1 326.5h0M225.8 326.5h0M228.6 326.5h0M231.3 326.5h0M234.0 326.5h0M236.8 326.5h0M239.5 326.5h0M242.3 326.5h0M245.0 326.5h0M247.7 326.5h0M255.9 326.5h0M258.7 326.5h0M261.4 326.5h0M264.1 326.5h0M266.9 326.5h0M269.6 326.5h0M275.1 326.5h0M277.8 326.5h0M280.5 326.5h0M283.3 326.5h0M286.0 326.5h0M288.7 326.5h0M291.5 326.5h0M294.2 326.5h0M299.7 326.5h0M302.4 326.5h0M305.2 326.5h0M307.9 326.5h0M313.4 326.5h0M318.8 326.5h0M327.0 326.5h0M329.8 326.5h0M335.2 326.5h0M338.0 326.5h0M340.7 326.5h0M343.4 326.5h0M346.2 326.5h0M348.9 326.5h0M351.6 326.5h0M217.6 329.2h0M220.4 329.2h0M223.1 329.2h0M225.8 329.2h0M228.6 329.2h0M234.0 329.2h0M236.8 329.2h0M239.5 329.2h0M242.3 329.2h0M245.0 329.2h0M247.7 329.2h0M250.5 329.2h0M255.9 329.2h0M258.7 329.2h0M261.4 329.2h0M264.1 329.2h0M266.9 329.2h0M269.6 329.2h0M272.3 329.2h0M275.1 329.2h0M277.8 329.2h0M283.3 329.2h0M286.0 329.2h0M288.7 329.2h0M297.0 329.2h0M299.7 329.2h0M302.4 329.2h0M305.2 329.2h0M307.9 329.2h0M310.6 329.2h0M316.1 329.2h0M318.8 329.2h0M321.6 329.2h0M324.3 329.2h0M327.0 329.2h0M329.8 329.2h0M332.5 329.2h0M335.2 329.2h0M338.0 329.2h0M340.7 329.2h0M343.4 329.2h0M346.2 329.2h0M351.6 329.2h0M217.6 332.0h0M220.4 332.0h0M225.8 332.0h0M228.6 332.0h0M236.8 332.0h0M242.3 332.0h0M245.0 332.0h0M247.7 332.0h0M250.5 332.0h0M253.2 332.0h0M255.9 332.0h0M258.7 332.0h0M261.4 332.0h0M264.1 332.0h0M283.3 332.0h0M286.0 332.0h0M288.7 332.0h0M291.5 332.0h0M294.2 332.0h0M305.2 332.0h0M307.9 332.0h0M310.6 332.0h0M321.6 332.0h0M324.3 332.0h0M327.0 332.0h0M329.8 332.0h0M338.0 332.0h0M340.7 332.0h0M343.4 332.0h0M346.2 332.0h0M348.9 332.0h0M351.6 332.0h0M242.3 334.7h0M245.0 334.7h0M247.7 334.7h0M250.5 334.7h0M255.9 334.7h0M261.4 334.7h0M321.6 334.7h0M327.0 334.7h0M329.8 334.7h0M340.7 334.7h0" stroke="#f59a0c" stroke-width="2.7" stroke-linecap="round" fill="none"/>
<path d="M275.1 258.0h0M277.8 258.0h0M280.5 258.0h0M275.1 260.8h0M277.8 260.8h0M280.5 260.8h0M283.3 260.8h0M291.5 260.8h0M294.2 260.8h0M297.0 260.8h0M275.1 263.5h0M277.8 263.5h0M280.5 263.5h0M283.3 263.5h0M288.7 263.5h0M291.5 263.5h0M294.2 263.5h0M280.5 266.3h0M283.3 266.3h0M291.5 266.3h0M294.2 266.3h0M297.0 266.3h0M275.1 269.0h0M277.8 269.0h0M280.5 269.0h0M283.3 269.0h0M286.0 269.0h0M288.7 269.0h0M291.5 269.0h0M299.7 269.0h0M275.1 271.7h0M277.8 271.7h0M280.5 271.7h0M283.3 271.7h0M286.0 271.7h0M291.5 271.7h0M294.2 271.7h0M299.7 271.7h0M302.4 271.7h0M277.8 274.5h0M280.5 274.5h0M283.3 274.5h0M286.0 274.5h0M288.7 274.5h0M291.5 274.5h0M294.2 274.5h0M297.0 274.5h0M299.7 274.5h0M302.4 274.5h0M277.8 277.2h0M280.5 277.2h0M283.3 277.2h0M286.0 277.2h0M288.7 277.2h0M291.5 277.2h0M294.2 277.2h0M297.0 277.2h0M299.7 277.2h0M302.4 277.2h0M307.9 277.2h0M310.6 277.2h0M280.5 279.9h0M286.0 279.9h0M288.7 279.9h0M291.5 279.9h0M294.2 279.9h0M297.0 279.9h0M299.7 279.9h0M302.4 279.9h0M305.2 279.9h0M307.9 279.9h0M310.6 279.9h0M280.5 282.7h0M286.0 282.7h0M288.7 282.7h0M291.5 282.7h0M294.2 282.7h0M297.0 282.7h0M299.7 282.7h0M307.9 282.7h0M310.6 282.7h0M313.4 282.7h0M275.1 285.4h0M277.8 285.4h0M280.5 285.4h0M283.3 285.4h0M286.0 285.4h0M288.7 285.4h0M291.5 285.4h0M294.2 285.4h0M297.0 285.4h0M299.7 285.4h0M302.4 285.4h0M305.2 285.4h0M307.9 285.4h0M310.6 285.4h0M275.1 288.2h0M277.8 288.2h0M283.3 288.2h0M286.0 288.2h0M288.7 288.2h0M291.5 288.2h0M294.2 288.2h0M299.7 288.2h0M302.4 288.2h0M305.2 288.2h0M307.9 288.2h0M310.6 288.2h0M272.3 290.9h0M275.1 290.9h0M277.8 290.9h0M280.5 290.9h0M283.3 290.9h0M286.0 290.9h0M288.7 290.9h0M291.5 290.9h0M294.2 290.9h0M297.0 290.9h0M299.7 290.9h0M302.4 290.9h0M305.2 290.9h0M307.9 290.9h0M310.6 290.9h0M261.4 293.6h0M264.1 293.6h0M266.9 293.6h0M269.6 293.6h0M272.3 293.6h0M275.1 293.6h0M280.5 293.6h0M291.5 293.6h0M299.7 293.6h0M302.4 293.6h0M305.2 293.6h0M307.9 293.6h0M310.6 293.6h0M258.7 296.4h0M261.4 296.4h0M264.1 296.4h0M266.9 296.4h0M269.6 296.4h0M272.3 296.4h0M275.1 296.4h0M277.8 296.4h0M280.5 296.4h0M283.3 296.4h0M286.0 296.4h0M288.7 296.4h0M291.5 296.4h0M294.2 296.4h0M297.0 296.4h0M299.7 296.4h0M302.4 296.4h0M307.9 296.4h0M261.4 299.1h0M264.1 299.1h0M266.9 299.1h0M269.6 299.1h0M272.3 299.1h0M275.1 299.1h0M277.8 299.1h0M280.5 299.1h0M283.3 299.1h0M286.0 299.1h0M288.7 299.1h0M291.5 299.1h0M294.2 299.1h0M299.7 299.1h0M302.4 299.1h0M305.2 299.1h0M307.9 299.1h0M255.9 301.9h0M261.4 301.9h0M264.1 301.9h0M266.9 301.9h0M269.6 301.9h0M272.3 301.9h0M275.1 301.9h0M277.8 301.9h0M280.5 301.9h0M283.3 301.9h0M286.0 301.9h0M288.7 301.9h0M291.5 301.9h0M294.2 301.9h0M297.0 301.9h0M299.7 301.9h0M302.4 301.9h0M305.2 301.9h0M250.5 304.6h0M253.2 304.6h0M255.9 304.6h0M258.7 304.6h0M261.4 304.6h0M264.1 304.6h0M266.9 304.6h0M272.3 304.6h0M275.1 304.6h0M277.8 304.6h0M280.5 304.6h0M283.3 304.6h0M286.0 304.6h0M288.7 304.6h0M291.5 304.6h0M294.2 304.6h0M297.0 304.6h0M299.7 304.6h0M302.4 304.6h0M305.2 304.6h0M255.9 307.3h0M258.7 307.3h0M261.4 307.3h0M264.1 307.3h0M266.9 307.3h0M269.6 307.3h0M280.5 307.3h0M283.3 307.3h0M286.0 307.3h0M288.7 307.3h0M291.5 307.3h0M294.2 307.3h0M297.0 307.3h0M299.7 307.3h0M302.4 307.3h0M305.2 307.3h0M253.2 310.1h0M255.9 310.1h0M258.7 310.1h0M261.4 310.1h0M264.1 310.1h0M280.5 310.1h0M283.3 310.1h0M286.0 310.1h0M288.7 310.1h0M291.5 310.1h0M294.2 310.1h0M297.0 310.1h0M299.7 310.1h0M305.2 310.1h0M253.2 312.8h0M255.9 312.8h0M258.7 312.8h0M261.4 312.8h0M264.1 312.8h0M266.9 312.8h0M277.8 312.8h0M280.5 312.8h0M283.3 312.8h0M286.0 312.8h0M288.7 312.8h0M291.5 312.8h0M294.2 312.8h0M297.0 312.8h0M299.7 312.8h0M302.4 312.8h0M258.7 315.6h0M261.4 315.6h0M277.8 315.6h0M280.5 315.6h0M283.3 315.6h0M286.0 315.6h0M288.7 315.6h0M291.5 315.6h0M294.2 315.6h0M297.0 315.6h0M299.7 315.6h0M302.4 315.6h0M261.4 318.3h0M277.8 318.3h0M280.5 318.3h0M283.3 318.3h0M286.0 318.3h0M288.7 318.3h0M291.5 318.3h0M294.2 318.3h0M297.0 318.3h0M299.7 318.3h0M302.4 318.3h0M277.8 321.0h0M280.5 321.0h0M283.3 321.0h0M286.0 321.0h0M288.7 321.0h0M294.2 321.0h0M297.0 321.0h0M299.7 321.0h0M277.8 323.8h0M286.0 323.8h0M288.7 323.8h0" stroke="#aa36a2" stroke-width="2.7" stroke-linecap="round" fill="none"/>
<path d="M332.5 296.4h0M228.6 307.3h0M313.4 310.1h0M223.1 312.8h0M236.8 315.6h0M269.6 318.3h0M291.5 321.0h0M231.3 323.8h0M299.7 323.8h0M272.3 326.5h0M297.0 326.5h0M231.3 329.2h0M280.5 329.2h0M348.9 329.2h0M223.1 332.0h0M234.0 332.0h0M239.5 332.0h0M266.9 332.0h0M275.1 332.0h0M316.1 332.0h0M318.8 332.0h0M332.5 332.0h0M335.2 332.0h0M217.6 334.7h0M225.8 334.7h0M253.2 334.7h0M258.7 334.7h0M272.3 334.7h0M286.0 334.7h0M297.0 334.7h0M307.9 334.7h0M324.3 334.7h0M338.0 334.7h0M343.4 334.7h0M351.6 334.7h0" stroke="#0a8038" stroke-width="2.7" stroke-linecap="round" fill="none"/>
<path d="M343.4 282.7h0M343.4 285.4h0M239.5 299.1h0M340.7 299.1h0M343.4 299.1h0M225.8 301.9h0M239.5 301.9h0M225.8 304.6h0M346.2 304.6h0M324.3 307.3h0M327.0 307.3h0M346.2 307.3h0M247.7 315.6h0M324.3 315.6h0M247.7 318.3h0M253.2 318.3h0M255.9 318.3h0M324.3 318.3h0M239.5 321.0h0M239.5 323.8h0M253.2 326.5h0M321.6 326.5h0M324.3 326.5h0M253.2 329.2h0M291.5 329.2h0M294.2 329.2h0M269.6 332.0h0M272.3 332.0h0M234.0 334.7h0M236.8 334.7h0M346.2 334.7h0M348.9 334.7h0" stroke="#2f4fc4" stroke-width="2.7" stroke-linecap="round" fill="none"/>
<text class="t" transform="translate(284.8,199.6) scale(1,1.15)" text-anchor="middle" xml:space="preserve">t = 213.67  <tspan class="i">μs</tspan></text>
<text class="n" x="211.5" y="206.5" text-anchor="end">51</text>
<text class="n" x="212.3" y="346.6" text-anchor="end">0</text>
<text class="n" x="214.7" y="353.9" text-anchor="middle">0</text>
<text class="n" x="353.9" y="353.9" text-anchor="middle">51</text>
<text class="n i" x="284.0" y="365.2" text-anchor="middle">x</text>
<text class="n i" transform="translate(198.4,273.6) rotate(-90)" text-anchor="middle">z</text>
<text class="l" x="222" y="224">e</text>
</g>
<g id="panel-f">
<rect x="401.65" y="202.80" width="139.35" height="139.75" fill="#fff" stroke="#808080" stroke-width="1"/>
<path d="M404.0 205.7h0M406.7 205.7h0M409.5 205.7h0M412.2 205.7h0M414.9 205.7h0M417.7 205.7h0M420.4 205.7h0M423.2 205.7h0M425.9 205.7h0M428.6 205.7h0M431.4 205.7h0M434.1 205.7h0M436.8 205.7h0M439.6 205.7h0M442.3 205.7h0M445.1 205.7h0M447.8 205.7h0M450.5 205.7h0M453.3 205.7h0M456.0 205.7h0M458.7 205.7h0M461.5 205.7h0M464.2 205.7h0M466.9 205.7h0M469.7 205.7h0M472.4 205.7h0M475.2 205.7h0M477.9 205.7h0M480.6 205.7h0M483.4 205.7h0M486.1 205.7h0M488.8 205.7h0M491.6 205.7h0M494.3 205.7h0M497.0 205.7h0M499.8 205.7h0M502.5 205.7h0M505.3 205.7h0M508.0 205.7h0M510.7 205.7h0M513.5 205.7h0M516.2 205.7h0M518.9 205.7h0M521.7 205.7h0M524.4 205.7h0M527.2 205.7h0M529.9 205.7h0M532.6 205.7h0M535.4 205.7h0M538.1 205.7h0" stroke="#5c5c5c" stroke-width="2.3" stroke-linecap="round" fill="none"/>
<path d="M404.0 339.6h0M406.7 339.6h0M409.5 339.6h0M412.2 339.6h0M414.9 339.6h0M417.7 339.6h0M420.4 339.6h0M423.2 339.6h0M425.9 339.6h0M428.6 339.6h0M431.4 339.6h0M434.1 339.6h0M436.8 339.6h0M439.6 339.6h0M442.3 339.6h0M445.1 339.6h0M447.8 339.6h0M450.5 339.6h0M453.3 339.6h0M456.0 339.6h0M458.7 339.6h0M461.5 339.6h0M464.2 339.6h0M466.9 339.6h0M469.7 339.6h0M472.4 339.6h0M475.2 339.6h0M477.9 339.6h0M480.6 339.6h0M483.4 339.6h0M486.1 339.6h0M488.8 339.6h0M491.6 339.6h0M494.3 339.6h0M497.0 339.6h0M499.8 339.6h0M502.5 339.6h0M505.3 339.6h0M508.0 339.6h0M510.7 339.6h0M513.5 339.6h0M516.2 339.6h0M518.9 339.6h0M521.7 339.6h0M524.4 339.6h0M527.2 339.6h0M529.9 339.6h0M532.6 339.6h0M535.4 339.6h0M538.1 339.6h0" stroke="#000000" stroke-width="2.7" stroke-linecap="round" fill="none"/>
<path d="M466.9 328.7h0M483.4 328.7h0M486.1 328.7h0M488.8 328.7h0M497.0 328.7h0M406.7 331.4h0M417.7 331.4h0M425.9 331.4h0M456.0 331.4h0M458.7 331.4h0M461.5 331.4h0M464.2 331.4h0M486.1 331.4h0M488.8 331.4h0M494.3 331.4h0M497.0 331.4h0M499.8 331.4h0M518.9 331.4h0M535.4 331.4h0M406.7 334.1h0M409.5 334.1h0M417.7 334.1h0M420.4 334.1h0M425.9 334.1h0M439.6 334.1h0M445.1 334.1h0M450.5 334.1h0M453.3 334.1h0M456.0 334.1h0M458.7 334.1h0M461.5 334.1h0M464.2 334.1h0M480.6 334.1h0M483.4 334.1h0M486.1 334.1h0M488.8 334.1h0M497.0 334.1h0M499.8 334.1h0M502.5 334.1h0M505.3 334.1h0M513.5 334.1h0M518.9 334.1h0M521.7 334.1h0M527.2 334.1h0M529.9 334.1h0M535.4 334.1h0M538.1 334.1h0M404.0 336.8h0M406.7 336.8h0M409.5 336.8h0M412.2 336.8h0M414.9 336.8h0M417.7 336.8h0M420.4 336.8h0M423.2 336.8h0M425.9 336.8h0M428.6 336.8h0M431.4 336.8h0M434.1 336.8h0M436.8 336.8h0M439.6 336.8h0M442.3 336.8h0M445.1 336.8h0M447.8 336.8h0M450.5 336.8h0M453.3 336.8h0M456.0 336.8h0M458.7 336.8h0M461.5 336.8h0M464.2 336.8h0M466.9 336.8h0M469.7 336.8h0M472.4 336.8h0M475.2 336.8h0M477.9 336.8h0M480.6 336.8h0M483.4 336.8h0M486.1 336.8h0M488.8 336.8h0M491.6 336.8h0M494.3 336.8h0M497.0 336.8h0M499.8 336.8h0M502.5 336.8h0M505.3 336.8h0M508.0 336.8h0M510.7 336.8h0M513.5 336.8h0M516.2 336.8h0M518.9 336.8h0M521.7 336.8h0M524.4 336.8h0M527.2 336.8h0M529.9 336.8h0M532.6 336.8h0M535.4 336.8h0M538.1 336.8h0" stroke="#ee1c24" stroke-width="2.7" stroke-linecap="round" fill="none"/>
<path d="M461.5 252.1h0M458.7 254.9h0M461.5 254.9h0M464.2 254.9h0M466.9 254.9h0M483.4 254.9h0M461.5 257.6h0M464.2 257.6h0M466.9 257.6h0M469.7 257.6h0M472.4 257.6h0M477.9 257.6h0M480.6 257.6h0M483.4 257.6h0M488.8 257.6h0M456.0 260.3h0M458.7 260.3h0M461.5 260.3h0M464.2 260.3h0M466.9 260.3h0M469.7 260.3h0M472.4 260.3h0M475.2 260.3h0M477.9 260.3h0M480.6 260.3h0M483.4 260.3h0M486.1 260.3h0M488.8 260.3h0M532.6 260.3h0M458.7 263.1h0M461.5 263.1h0M464.2 263.1h0M466.9 263.1h0M469.7 263.1h0M477.9 263.1h0M480.6 263.1h0M486.1 263.1h0M488.8 263.1h0M527.2 263.1h0M529.9 263.1h0M532.6 263.1h0M535.4 263.1h0M466.9 265.8h0M469.7 265.8h0M475.2 265.8h0M477.9 265.8h0M480.6 265.8h0M486.1 265.8h0M521.7 265.8h0M524.4 265.8h0M527.2 265.8h0M529.9 265.8h0M461.5 268.5h0M464.2 268.5h0M466.9 268.5h0M469.7 268.5h0M472.4 268.5h0M475.2 268.5h0M477.9 268.5h0M483.4 268.5h0M486.1 268.5h0M491.6 268.5h0M494.3 268.5h0M518.9 268.5h0M521.7 268.5h0M524.4 268.5h0M527.2 268.5h0M458.7 271.3h0M461.5 271.3h0M464.2 271.3h0M466.9 271.3h0M469.7 271.3h0M472.4 271.3h0M477.9 271.3h0M486.1 271.3h0M488.8 271.3h0M491.6 271.3h0M494.3 271.3h0M497.0 271.3h0M521.7 271.3h0M524.4 271.3h0M527.2 271.3h0M529.9 271.3h0M532.6 271.3h0M458.7 274.0h0M461.5 274.0h0M464.2 274.0h0M466.9 274.0h0M469.7 274.0h0M472.4 274.0h0M475.2 274.0h0M477.9 274.0h0M480.6 274.0h0M483.4 274.0h0M486.1 274.0h0M491.6 274.0h0M494.3 274.0h0M497.0 274.0h0M499.8 274.0h0M516.2 274.0h0M518.9 274.0h0M521.7 274.0h0M524.4 274.0h0M527.2 274.0h0M529.9 274.0h0M532.6 274.0h0M461.5 276.7h0M464.2 276.7h0M466.9 276.7h0M469.7 276.7h0M472.4 276.7h0M475.2 276.7h0M477.9 276.7h0M480.6 276.7h0M483.4 276.7h0M486.1 276.7h0M488.8 276.7h0M494.3 276.7h0M497.0 276.7h0M499.8 276.7h0M502.5 276.7h0M505.3 276.7h0M508.0 276.7h0M524.4 276.7h0M527.2 276.7h0M529.9 276.7h0M420.4 279.5h0M423.2 279.5h0M461.5 279.5h0M464.2 279.5h0M466.9 279.5h0M472.4 279.5h0M475.2 279.5h0M477.9 279.5h0M480.6 279.5h0M483.4 279.5h0M486.1 279.5h0M488.8 279.5h0M491.6 279.5h0M494.3 279.5h0M497.0 279.5h0M499.8 279.5h0M502.5 279.5h0M510.7 279.5h0M513.5 279.5h0M518.9 279.5h0M521.7 279.5h0M524.4 279.5h0M529.9 279.5h0M535.4 279.5h0M417.7 282.2h0M420.4 282.2h0M428.6 282.2h0M456.0 282.2h0M458.7 282.2h0M461.5 282.2h0M464.2 282.2h0M466.9 282.2h0M472.4 282.2h0M475.2 282.2h0M477.9 282.2h0M480.6 282.2h0M483.4 282.2h0M486.1 282.2h0M494.3 282.2h0M497.0 282.2h0M499.8 282.2h0M502.5 282.2h0M505.3 282.2h0M508.0 282.2h0M510.7 282.2h0M513.5 282.2h0M516.2 282.2h0M518.9 282.2h0M524.4 282.2h0M529.9 282.2h0M532.6 282.2h0M535.4 282.2h0M420.4 284.9h0M428.6 284.9h0M431.4 284.9h0M445.1 284.9h0M447.8 284.9h0M453.3 284.9h0M456.0 284.9h0M458.7 284.9h0M461.5 284.9h0M464.2 284.9h0M466.9 284.9h0M469.7 284.9h0M472.4 284.9h0M475.2 284.9h0M477.9 284.9h0M480.6 284.9h0M483.4 284.9h0M486.1 284.9h0M488.8 284.9h0M491.6 284.9h0M494.3 284.9h0M497.0 284.9h0M499.8 284.9h0M502.5 284.9h0M505.3 284.9h0M508.0 284.9h0M510.7 284.9h0M513.5 284.9h0M529.9 284.9h0M532.6 284.9h0M535.4 284.9h0M420.4 287.7h0M423.2 287.7h0M425.9 287.7h0M428.6 287.7h0M431.4 287.7h0M434.1 287.7h0M447.8 287.7h0M453.3 287.7h0M456.0 287.7h0M461.5 287.7h0M464.2 287.7h0M469.7 287.7h0M472.4 287.7h0M475.2 287.7h0M477.9 287.7h0M480.6 287.7h0M486.1 287.7h0M488.8 287.7h0M491.6 287.7h0M494.3 287.7h0M497.0 287.7h0M499.8 287.7h0M502.5 287.7h0M505.3 287.7h0M510.7 287.7h0M513.5 287.7h0M516.2 287.7h0M527.2 287.7h0M529.9 287.7h0M423.2 290.4h0M425.9 290.4h0M431.4 290.4h0M436.8 290.4h0M442.3 290.4h0M445.1 290.4h0M447.8 290.4h0M450.5 290.4h0M453.3 290.4h0M456.0 290.4h0M461.5 290.4h0M464.2 290.4h0M466.9 290.4h0M469.7 290.4h0M472.4 290.4h0M475.2 290.4h0M477.9 290.4h0M480.6 290.4h0M483.4 290.4h0M486.1 290.4h0M488.8 290.4h0M491.6 290.4h0M494.3 290.4h0M497.0 290.4h0M499.8 290.4h0M502.5 290.4h0M505.3 290.4h0M508.0 290.4h0M510.7 290.4h0M513.5 290.4h0M423.2 293.1h0M425.9 293.1h0M428.6 293.1h0M431.4 293.1h0M434.1 293.1h0M436.8 293.1h0M439.6 293.1h0M442.3 293.1h0M445.1 293.1h0M447.8 293.1h0M450.5 293.1h0M453.3 293.1h0M456.0 293.1h0M458.7 293.1h0M461.5 293.1h0M466.9 293.1h0M477.9 293.1h0M486.1 293.1h0M488.8 293.1h0M491.6 293.1h0M494.3 293.1h0M497.0 293.1h0M499.8 293.1h0M502.5 293.1h0M505.3 293.1h0M508.0 293.1h0M510.7 293.1h0M420.4 295.9h0M423.2 295.9h0M431.4 295.9h0M434.1 295.9h0M436.8 295.9h0M439.6 295.9h0M442.3 295.9h0M445.1 295.9h0M447.8 295.9h0M450.5 295.9h0M453.3 295.9h0M456.0 295.9h0M458.7 295.9h0M461.5 295.9h0M464.2 295.9h0M466.9 295.9h0M469.7 295.9h0M472.4 295.9h0M475.2 295.9h0M477.9 295.9h0M480.6 295.9h0M483.4 295.9h0M486.1 295.9h0M488.8 295.9h0M494.3 295.9h0M497.0 295.9h0M499.8 295.9h0M505.3 295.9h0M508.0 295.9h0M510.7 295.9h0M417.7 298.6h0M420.4 298.6h0M423.2 298.6h0M431.4 298.6h0M434.1 298.6h0M436.8 298.6h0M439.6 298.6h0M442.3 298.6h0M447.8 298.6h0M450.5 298.6h0M453.3 298.6h0M456.0 298.6h0M458.7 298.6h0M461.5 298.6h0M464.2 298.6h0M466.9 298.6h0M469.7 298.6h0M472.4 298.6h0M475.2 298.6h0M477.9 298.6h0M480.6 298.6h0M486.1 298.6h0M488.8 298.6h0M491.6 298.6h0M494.3 298.6h0M497.0 298.6h0M499.8 298.6h0M502.5 298.6h0M505.3 298.6h0M508.0 298.6h0M510.7 298.6h0M513.5 298.6h0M414.9 301.3h0M417.7 301.3h0M420.4 301.3h0M423.2 301.3h0M428.6 301.3h0M431.4 301.3h0M434.1 301.3h0M436.8 301.3h0M439.6 301.3h0M442.3 301.3h0M450.5 301.3h0M453.3 301.3h0M456.0 301.3h0M458.7 301.3h0M461.5 301.3h0M464.2 301.3h0M466.9 301.3h0M469.7 301.3h0M472.4 301.3h0M475.2 301.3h0M477.9 301.3h0M480.6 301.3h0M483.4 301.3h0M486.1 301.3h0M488.8 301.3h0M494.3 301.3h0M497.0 301.3h0M499.8 301.3h0M502.5 301.3h0M505.3 301.3h0M508.0 301.3h0M513.5 301.3h0M414.9 304.1h0M417.7 304.1h0M420.4 304.1h0M423.2 304.1h0M425.9 304.1h0M428.6 304.1h0M431.4 304.1h0M434.1 304.1h0M436.8 304.1h0M439.6 304.1h0M442.3 304.1h0M445.1 304.1h0M447.8 304.1h0M450.5 304.1h0M453.3 304.1h0M458.7 304.1h0M461.5 304.1h0M464.2 304.1h0M466.9 304.1h0M469.7 304.1h0M472.4 304.1h0M475.2 304.1h0M477.9 304.1h0M480.6 304.1h0M483.4 304.1h0M486.1 304.1h0M488.8 304.1h0M491.6 304.1h0M494.3 304.1h0M497.0 304.1h0M499.8 304.1h0M502.5 304.1h0M505.3 304.1h0M508.0 304.1h0M510.7 304.1h0M414.9 306.8h0M417.7 306.8h0M423.2 306.8h0M425.9 306.8h0M428.6 306.8h0M431.4 306.8h0M434.1 306.8h0M436.8 306.8h0M442.3 306.8h0M445.1 306.8h0M447.8 306.8h0M450.5 306.8h0M453.3 306.8h0M456.0 306.8h0M458.7 306.8h0M461.5 306.8h0M466.9 306.8h0M469.7 306.8h0M472.4 306.8h0M475.2 306.8h0M477.9 306.8h0M480.6 306.8h0M483.4 306.8h0M486.1 306.8h0M488.8 306.8h0M491.6 306.8h0M494.3 306.8h0M497.0 306.8h0M499.8 306.8h0M502.5 306.8h0M505.3 306.8h0M508.0 306.8h0M510.7 306.8h0M513.5 306.8h0M516.2 306.8h0M420.4 309.5h0M425.9 309.5h0M431.4 309.5h0M434.1 309.5h0M436.8 309.5h0M442.3 309.5h0M445.1 309.5h0M447.8 309.5h0M450.5 309.5h0M456.0 309.5h0M464.2 309.5h0M466.9 309.5h0M469.7 309.5h0M472.4 309.5h0M475.2 309.5h0M477.9 309.5h0M480.6 309.5h0M483.4 309.5h0M491.6 309.5h0M494.3 309.5h0M497.0 309.5h0M499.8 309.5h0M502.5 309.5h0M505.3 309.5h0M513.5 309.5h0M404.0 312.3h0M406.7 312.3h0M409.5 312.3h0M412.2 312.3h0M420.4 312.3h0M423.2 312.3h0M425.9 312.3h0M431.4 312.3h0M434.1 312.3h0M436.8 312.3h0M439.6 312.3h0M442.3 312.3h0M445.1 312.3h0M447.8 312.3h0M450.5 312.3h0M453.3 312.3h0M464.2 312.3h0M466.9 312.3h0M469.7 312.3h0M472.4 312.3h0M475.2 312.3h0M477.9 312.3h0M480.6 312.3h0M483.4 312.3h0M486.1 312.3h0M488.8 312.3h0M491.6 312.3h0M494.3 312.3h0M497.0 312.3h0M499.8 312.3h0M502.5 312.3h0M505.3 312.3h0M510.7 312.3h0M513.5 312.3h0M516.2 312.3h0M521.7 312.3h0M409.5 315.0h0M412.2 315.0h0M414.9 315.0h0M417.7 315.0h0M420.4 315.0h0M423.2 315.0h0M425.9 315.0h0M428.6 315.0h0M431.4 315.0h0M434.1 315.0h0M439.6 315.0h0M442.3 315.0h0M445.1 315.0h0M447.8 315.0h0M450.5 315.0h0M453.3 315.0h0M456.0 315.0h0M461.5 315.0h0M464.2 315.0h0M466.9 315.0h0M469.7 315.0h0M472.4 315.0h0M475.2 315.0h0M477.9 315.0h0M480.6 315.0h0M483.4 315.0h0M486.1 315.0h0M488.8 315.0h0M491.6 315.0h0M494.3 315.0h0M497.0 315.0h0M499.8 315.0h0M502.5 315.0h0M505.3 315.0h0M508.0 315.0h0M513.5 315.0h0M516.2 315.0h0M518.9 315.0h0M521.7 315.0h0M406.7 317.7h0M409.5 317.7h0M412.2 317.7h0M414.9 317.7h0M417.7 317.7h0M420.4 317.7h0M423.2 317.7h0M425.9 317.7h0M428.6 317.7h0M431.4 317.7h0M434.1 317.7h0M436.8 317.7h0M439.6 317.7h0M442.3 317.7h0M445.1 317.7h0M447.8 317.7h0M450.5 317.7h0M453.3 317.7h0M456.0 317.7h0M461.5 317.7h0M464.2 317.7h0M466.9 317.7h0M469.7 317.7h0M472.4 317.7h0M475.2 317.7h0M477.9 317.7h0M480.6 317.7h0M483.4 317.7h0M486.1 317.7h0M488.8 317.7h0M491.6 317.7h0M494.3 317.7h0M497.0 317.7h0M499.8 317.7h0M502.5 317.7h0M505.3 317.7h0M508.0 317.7h0M510.7 317.7h0M513.5 317.7h0M516.2 317.7h0M518.9 317.7h0M521.7 317.7h0M527.2 317.7h0M529.9 317.7h0M404.0 320.5h0M406.7 320.5h0M409.5 320.5h0M412.2 320.5h0M414.9 320.5h0M417.7 320.5h0M420.4 320.5h0M423.2 320.5h0M425.9 320.5h0M428.6 320.5h0M431.4 320.5h0M434.1 320.5h0M436.8 320.5h0M439.6 320.5h0M442.3 320.5h0M445.1 320.5h0M447.8 320.5h0M450.5 320.5h0M453.3 320.5h0M456.0 320.5h0M458.7 320.5h0M461.5 320.5h0M464.2 320.5h0M466.9 320.5h0M469.7 320.5h0M472.4 320.5h0M475.2 320.5h0M480.6 320.5h0M483.4 320.5h0M486.1 320.5h0M488.8 320.5h0M491.6 320.5h0M494.3 320.5h0M497.0 320.5h0M499.8 320.5h0M502.5 320.5h0M505.3 320.5h0M508.0 320.5h0M510.7 320.5h0M513.5 320.5h0M516.2 320.5h0M518.9 320.5h0M521.7 320.5h0M527.2 320.5h0M529.9 320.5h0M532.6 320.5h0M404.0 323.2h0M406.7 323.2h0M409.5 323.2h0M412.2 323.2h0M414.9 323.2h0M417.7 323.2h0M420.4 323.2h0M423.2 323.2h0M425.9 323.2h0M428.6 323.2h0M431.4 323.2h0M434.1 323.2h0M436.8 323.2h0M439.6 323.2h0M442.3 323.2h0M445.1 323.2h0M447.8 323.2h0M450.5 323.2h0M453.3 323.2h0M458.7 323.2h0M461.5 323.2h0M464.2 323.2h0M466.9 323.2h0M469.7 323.2h0M472.4 323.2h0M475.2 323.2h0M477.9 323.2h0M480.6 323.2h0M483.4 323.2h0M486.1 323.2h0M491.6 323.2h0M494.3 323.2h0M497.0 323.2h0M499.8 323.2h0M502.5 323.2h0M505.3 323.2h0M508.0 323.2h0M510.7 323.2h0M516.2 323.2h0M521.7 323.2h0M524.4 323.2h0M527.2 323.2h0M529.9 323.2h0M532.6 323.2h0M404.0 325.9h0M406.7 325.9h0M409.5 325.9h0M412.2 325.9h0M414.9 325.9h0M417.7 325.9h0M420.4 325.9h0M423.2 325.9h0M425.9 325.9h0M428.6 325.9h0M431.4 325.9h0M434.1 325.9h0M436.8 325.9h0M439.6 325.9h0M442.3 325.9h0M445.1 325.9h0M447.8 325.9h0M450.5 325.9h0M453.3 325.9h0M458.7 325.9h0M461.5 325.9h0M464.2 325.9h0M466.9 325.9h0M469.7 325.9h0M472.4 325.9h0M475.2 325.9h0M477.9 325.9h0M483.4 325.9h0M486.1 325.9h0M488.8 325.9h0M491.6 325.9h0M494.3 325.9h0M497.0 325.9h0M499.8 325.9h0M502.5 325.9h0M505.3 325.9h0M508.0 325.9h0M510.7 325.9h0M513.5 325.9h0M516.2 325.9h0M518.9 325.9h0M521.7 325.9h0M524.4 325.9h0M527.2 325.9h0M529.9 325.9h0M532.6 325.9h0M538.1 325.9h0M404.0 328.7h0M406.7 328.7h0M412.2 328.7h0M414.9 328.7h0M420.4 328.7h0M423.2 328.7h0M425.9 328.7h0M428.6 328.7h0M431.4 328.7h0M434.1 328.7h0M436.8 328.7h0M439.6 328.7h0M442.3 328.7h0M445.1 328.7h0M447.8 328.7h0M450.5 328.7h0M453.3 328.7h0M456.0 328.7h0M461.5 328.7h0M464.2 328.7h0M469.7 328.7h0M472.4 328.7h0M475.2 328.7h0M477.9 328.7h0M480.6 328.7h0M491.6 328.7h0M494.3 328.7h0M499.8 328.7h0M502.5 328.7h0M505.3 328.7h0M508.0 328.7h0M510.7 328.7h0M513.5 328.7h0M516.2 328.7h0M518.9 328.7h0M521.7 328.7h0M524.4 328.7h0M527.2 328.7h0M529.9 328.7h0M532.6 328.7h0M535.4 328.7h0M538.1 328.7h0M404.0 331.4h0M409.5 331.4h0M412.2 331.4h0M420.4 331.4h0M423.2 331.4h0M428.6 331.4h0M431.4 331.4h0M434.1 331.4h0M436.8 331.4h0M439.6 331.4h0M442.3 331.4h0M445.1 331.4h0M447.8 331.4h0M450.5 331.4h0M466.9 331.4h0M469.7 331.4h0M472.4 331.4h0M475.2 331.4h0M477.9 331.4h0M480.6 331.4h0M491.6 331.4h0M502.5 331.4h0M505.3 331.4h0M508.0 331.4h0M513.5 331.4h0M516.2 331.4h0M521.7 331.4h0M524.4 331.4h0M527.2 331.4h0M529.9 331.4h0M532.6 331.4h0M538.1 331.4h0M404.0 334.1h0M412.2 334.1h0M423.2 334.1h0M428.6 334.1h0M431.4 334.1h0M434.1 334.1h0M436.8 334.1h0M442.3 334.1h0M447.8 334.1h0M466.9 334.1h0M469.7 334.1h0M475.2 334.1h0M477.9 334.1h0M491.6 334.1h0M508.0 334.1h0M516.2 334.1h0M524.4 334.1h0M532.6 334.1h0" stroke="#aa36a2" stroke-width="2.7" stroke-linecap="round" fill="none"/>
<path d="M458.7 317.7h0M477.9 320.5h0M456.0 323.2h0M488.8 323.2h0M480.6 325.9h0M409.5 328.7h0M417.7 328.7h0M414.9 331.4h0M453.3 331.4h0M510.7 331.4h0M472.4 334.1h0M494.3 334.1h0" stroke="#0a8038" stroke-width="2.7" stroke-linecap="round" fill="none"/>
<path d="M483.4 331.4h0M414.9 334.1h0M510.7 334.1h0" stroke="#f5b000" stroke-width="2.7" stroke-linecap="round" fill="none"/>
<text class="t" transform="translate(471.5,199.6) scale(1,1.15)" text-anchor="middle" xml:space="preserve">t = 2606.84 <tspan class="i">μ</tspan>s</text>
<text class="n" x="398.2" y="205.7" text-anchor="end">51</text>
<text class="n" x="399.0" y="346.2" text-anchor="end">0</text>
<text class="n" x="401.4" y="353.6" text-anchor="middle">0</text>
<text class="n" x="540.5" y="353.6" text-anchor="middle">51</text>
<text class="n i" x="470.7" y="364.9" text-anchor="middle">x</text>
<text class="n i" transform="translate(385.1,273.0) rotate(-90)" text-anchor="middle">z</text>
<text class="l" x="408.7" y="224">f</text>
</g>
</svg></body></html>
